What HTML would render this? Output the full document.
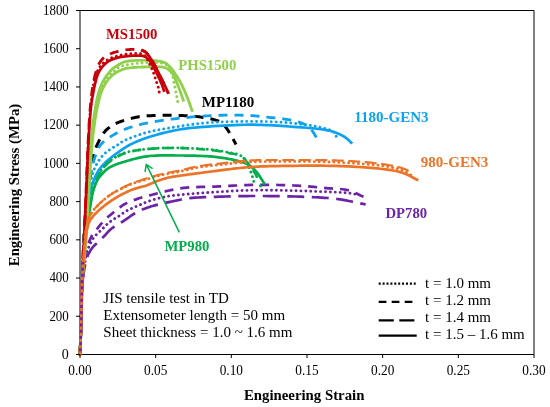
<!DOCTYPE html>
<html><head><meta charset="utf-8"><style>
html,body{margin:0;padding:0;background:#fff;width:550px;height:407px;overflow:hidden}
svg{display:block;filter:blur(0.3px)}
</style></head><body>
<svg width="550" height="407" viewBox="0 0 550 407" font-family='"Liberation Serif", serif'>
<path d="M80.0,10.5H534.0V354.5H80.0Z" fill="none" stroke="#000" stroke-width="1"/>
<path d="M80.00,354.50 L80.12,351.05 L80.25,347.60 L80.37,344.16 L80.50,340.71 L80.63,337.27 L80.75,333.82 L80.87,330.37 L80.99,326.92 L81.10,323.46 L81.20,320.00 L81.29,316.43 L81.36,312.74 L81.42,308.98 L81.47,305.20 L81.52,301.45 L81.58,297.79 L81.65,294.26 L81.74,290.91 L81.86,287.81 L82.00,285.00 L82.10,283.43 L82.22,281.97 L82.34,280.58 L82.47,279.26 L82.61,278.00 L82.75,276.77 L82.89,275.57 L83.03,274.39 L83.16,273.20 L83.30,272.00 L83.42,270.95 L83.53,269.93 L83.64,268.93 L83.75,267.95 L83.86,266.97 L83.97,266.00 L84.09,265.02 L84.22,264.03 L84.36,263.03 L84.50,262.00 L84.66,260.84 L84.83,259.64 L85.00,258.43 L85.18,257.20 L85.36,255.97 L85.56,254.74 L85.77,253.52 L85.99,252.31 L86.24,251.14 L86.50,250.00 L86.76,248.99 L87.02,247.99 L87.30,247.01 L87.59,246.04 L87.90,245.08 L88.22,244.14 L88.54,243.21 L88.88,242.29 L89.24,241.39 L89.60,240.50 L89.95,239.69 L90.31,238.88 L90.69,238.07 L91.07,237.27 L91.47,236.49 L91.87,235.73 L92.27,234.99 L92.68,234.29 L93.09,233.62 L93.50,233.00 L93.81,232.57 L94.11,232.17 L94.40,231.81 L94.70,231.47 L95.01,231.14 L95.32,230.81 L95.64,230.47 L95.97,230.12 L96.33,229.73 L96.70,229.30 L97.32,228.56 L97.99,227.74 L98.71,226.85 L99.46,225.92 L100.23,224.96 L101.02,224.00 L101.81,223.06 L102.59,222.14 L103.36,221.29 L104.10,220.50 L104.69,219.90 L105.28,219.34 L105.86,218.81 L106.44,218.29 L107.01,217.79 L107.59,217.30 L108.18,216.81 L108.77,216.32 L109.38,215.82 L110.00,215.30 L110.70,214.72 L111.42,214.12 L112.16,213.52 L112.91,212.92 L113.66,212.32 L114.42,211.72 L115.17,211.13 L115.93,210.54 L116.67,209.96 L117.40,209.40 L118.06,208.88 L118.70,208.37 L119.32,207.86 L119.94,207.36 L120.56,206.87 L121.19,206.38 L121.84,205.90 L122.52,205.42 L123.24,204.96 L124.00,204.50 L125.01,203.94 L126.07,203.39 L127.17,202.86 L128.31,202.34 L129.49,201.82 L130.71,201.32 L131.95,200.83 L133.21,200.35 L134.50,199.87 L135.80,199.40 L137.38,198.86 L139.03,198.33 L140.74,197.81 L142.49,197.31 L144.26,196.82 L146.04,196.34 L147.82,195.86 L149.59,195.40 L151.32,194.95 L153.00,194.50 L154.51,194.09 L156.00,193.70 L157.47,193.30 L158.92,192.92 L160.37,192.55 L161.82,192.18 L163.27,191.82 L164.73,191.47 L166.20,191.13 L167.70,190.80 L169.25,190.46 L170.76,190.13 L172.27,189.81 L173.77,189.50 L175.29,189.19 L176.86,188.90 L178.47,188.63 L180.15,188.37 L181.93,188.12 L183.80,187.90 L186.78,187.62 L189.99,187.39 L193.40,187.21 L196.96,187.06 L200.63,186.94 L204.37,186.84 L208.14,186.75 L211.90,186.65 L215.60,186.54 L219.20,186.40 L222.72,186.24 L226.23,186.07 L229.73,185.89 L233.23,185.70 L236.74,185.52 L240.25,185.35 L243.77,185.20 L247.32,185.07 L250.89,184.97 L254.50,184.90 L258.35,184.86 L262.27,184.84 L266.22,184.84 L270.20,184.87 L274.20,184.91 L278.18,184.98 L282.14,185.08 L286.06,185.19 L289.92,185.34 L293.70,185.50 L297.12,185.68 L300.54,185.89 L303.94,186.13 L307.31,186.39 L310.65,186.67 L313.94,186.96 L317.17,187.25 L320.33,187.54 L323.41,187.83 L326.40,188.10 L328.79,188.29 L331.14,188.45 L333.44,188.58 L335.70,188.70 L337.92,188.84 L340.09,189.01 L342.21,189.22 L344.29,189.50 L346.32,189.85 L348.30,190.30 L349.96,190.78 L351.56,191.33 L353.12,191.94 L354.63,192.59 L356.12,193.28 L357.59,194.00 L359.05,194.72 L360.52,195.43 L362.00,196.13 L363.50,196.80" fill="none" stroke="#6C24A6" stroke-width="2.7" stroke-dasharray="9,7" stroke-linejoin="round"/>
<path d="M80.00,354.50 L80.12,351.05 L80.25,347.60 L80.37,344.16 L80.50,340.71 L80.63,337.27 L80.75,333.82 L80.87,330.37 L80.99,326.92 L81.10,323.46 L81.20,320.00 L81.29,316.42 L81.36,312.70 L81.41,308.90 L81.46,305.07 L81.50,301.28 L81.56,297.59 L81.63,294.06 L81.72,290.74 L81.84,287.70 L82.00,285.00 L82.10,283.64 L82.22,282.38 L82.34,281.21 L82.47,280.10 L82.60,279.04 L82.74,278.02 L82.88,277.02 L83.02,276.03 L83.16,275.03 L83.30,274.00 L83.42,273.06 L83.55,272.14 L83.68,271.23 L83.81,270.33 L83.94,269.44 L84.07,268.56 L84.20,267.67 L84.33,266.78 L84.47,265.90 L84.60,265.00 L84.73,264.09 L84.86,263.18 L84.99,262.26 L85.11,261.33 L85.24,260.41 L85.38,259.50 L85.52,258.60 L85.67,257.71 L85.83,256.84 L86.00,256.00 L86.16,255.28 L86.31,254.60 L86.46,253.93 L86.62,253.28 L86.78,252.63 L86.96,251.98 L87.16,251.32 L87.38,250.64 L87.62,249.94 L87.90,249.20 L88.32,248.12 L88.79,246.96 L89.31,245.75 L89.86,244.51 L90.45,243.24 L91.07,241.99 L91.72,240.75 L92.39,239.56 L93.09,238.44 L93.80,237.40 L94.46,236.55 L95.16,235.74 L95.90,234.97 L96.65,234.23 L97.43,233.52 L98.20,232.82 L98.98,232.14 L99.74,231.46 L100.49,230.79 L101.20,230.10 L101.82,229.48 L102.42,228.86 L103.01,228.25 L103.59,227.64 L104.17,227.04 L104.75,226.45 L105.32,225.87 L105.91,225.30 L106.50,224.74 L107.10,224.20 L107.68,223.70 L108.26,223.22 L108.84,222.75 L109.43,222.29 L110.02,221.84 L110.61,221.39 L111.20,220.96 L111.80,220.53 L112.40,220.11 L113.00,219.70 L113.58,219.31 L114.16,218.95 L114.74,218.59 L115.32,218.25 L115.90,217.90 L116.49,217.56 L117.08,217.22 L117.68,216.86 L118.28,216.49 L118.90,216.10 L119.61,215.63 L120.31,215.14 L121.02,214.63 L121.74,214.11 L122.46,213.58 L123.20,213.05 L123.96,212.53 L124.75,212.01 L125.56,211.49 L126.40,211.00 L127.47,210.42 L128.59,209.85 L129.76,209.28 L130.96,208.72 L132.19,208.17 L133.43,207.62 L134.69,207.09 L135.94,206.55 L137.18,206.02 L138.40,205.50 L139.59,204.98 L140.77,204.47 L141.94,203.95 L143.11,203.45 L144.29,202.94 L145.48,202.45 L146.68,201.97 L147.92,201.50 L149.19,201.04 L150.50,200.60 L152.10,200.10 L153.77,199.60 L155.50,199.11 L157.27,198.64 L159.06,198.18 L160.85,197.75 L162.63,197.34 L164.38,196.96 L166.07,196.61 L167.70,196.30 L168.98,196.07 L170.19,195.88 L171.35,195.71 L172.48,195.56 L173.61,195.43 L174.76,195.31 L175.95,195.19 L177.20,195.07 L178.54,194.94 L180.00,194.80 L182.56,194.55 L185.33,194.30 L188.30,194.04 L191.42,193.78 L194.68,193.52 L198.03,193.26 L201.45,193.01 L204.90,192.76 L208.36,192.52 L211.80,192.30 L215.78,192.04 L219.81,191.78 L223.91,191.52 L228.06,191.26 L232.28,191.02 L236.57,190.80 L240.93,190.60 L245.37,190.43 L249.89,190.29 L254.50,190.20 L260.23,190.15 L266.25,190.15 L272.48,190.21 L278.84,190.30 L285.27,190.43 L291.67,190.60 L297.97,190.78 L304.09,190.98 L309.96,191.19 L315.50,191.40 L319.72,191.56 L324.00,191.71 L328.27,191.86 L332.47,192.02 L336.53,192.20 L340.40,192.40 L344.00,192.63 L347.28,192.90 L350.17,193.22 L352.60,193.60 L353.49,193.78 L354.28,193.98 L355.00,194.18 L355.65,194.39 L356.25,194.61 L356.83,194.83 L357.40,195.05 L357.97,195.27 L358.57,195.49 L359.20,195.70" fill="none" stroke="#6C24A6" stroke-width="2.9" stroke-dasharray="0.01,4.9" stroke-linecap="round" stroke-linejoin="round"/>
<path d="M80.00,354.50 L80.12,351.05 L80.25,347.60 L80.37,344.16 L80.50,340.71 L80.63,337.27 L80.75,333.82 L80.87,330.37 L80.99,326.92 L81.10,323.46 L81.20,320.00 L81.29,316.41 L81.35,312.65 L81.40,308.80 L81.44,304.92 L81.48,301.08 L81.53,297.36 L81.60,293.82 L81.70,290.53 L81.83,287.57 L82.00,285.00 L82.11,283.86 L82.22,282.81 L82.35,281.84 L82.48,280.94 L82.61,280.09 L82.75,279.28 L82.89,278.47 L83.03,277.67 L83.17,276.85 L83.30,276.00 L83.42,275.18 L83.54,274.36 L83.65,273.55 L83.76,272.74 L83.88,271.93 L83.99,271.14 L84.11,270.34 L84.23,269.56 L84.36,268.77 L84.50,268.00 L84.63,267.28 L84.77,266.56 L84.90,265.84 L85.04,265.13 L85.19,264.43 L85.34,263.73 L85.49,263.04 L85.65,262.35 L85.82,261.67 L86.00,261.00 L86.17,260.38 L86.34,259.77 L86.51,259.17 L86.68,258.57 L86.86,257.98 L87.06,257.39 L87.26,256.80 L87.49,256.21 L87.73,255.61 L88.00,255.00 L88.34,254.29 L88.70,253.56 L89.08,252.82 L89.49,252.08 L89.92,251.34 L90.36,250.60 L90.82,249.88 L91.30,249.16 L91.79,248.47 L92.30,247.80 L92.82,247.16 L93.38,246.54 L93.95,245.93 L94.54,245.34 L95.15,244.76 L95.76,244.19 L96.38,243.62 L96.99,243.05 L97.60,242.48 L98.20,241.90 L98.79,241.33 L99.37,240.76 L99.96,240.20 L100.54,239.65 L101.13,239.09 L101.71,238.53 L102.30,237.96 L102.90,237.39 L103.50,236.80 L104.10,236.20 L104.76,235.51 L105.41,234.81 L106.06,234.08 L106.71,233.34 L107.37,232.60 L108.04,231.85 L108.73,231.12 L109.45,230.39 L110.21,229.68 L111.00,229.00 L111.96,228.25 L112.96,227.54 L114.01,226.84 L115.09,226.17 L116.20,225.50 L117.33,224.83 L118.48,224.15 L119.65,223.46 L120.82,222.74 L122.00,222.00 L123.39,221.08 L124.83,220.10 L126.30,219.08 L127.79,218.04 L129.30,216.99 L130.81,215.96 L132.31,214.95 L133.80,214.00 L135.27,213.11 L136.70,212.30 L137.87,211.68 L139.03,211.10 L140.18,210.56 L141.32,210.05 L142.45,209.56 L143.58,209.10 L144.70,208.65 L145.83,208.22 L146.96,207.81 L148.10,207.40 L149.20,207.02 L150.30,206.67 L151.39,206.33 L152.49,206.01 L153.59,205.71 L154.70,205.42 L155.80,205.13 L156.90,204.85 L158.00,204.58 L159.10,204.30 L160.17,204.03 L161.23,203.78 L162.27,203.54 L163.30,203.31 L164.35,203.08 L165.40,202.85 L166.49,202.62 L167.61,202.39 L168.78,202.15 L170.00,201.90 L171.72,201.54 L173.50,201.16 L175.35,200.76 L177.26,200.35 L179.23,199.95 L181.24,199.55 L183.30,199.16 L185.40,198.81 L187.54,198.48 L189.70,198.20 L192.39,197.91 L195.17,197.68 L198.02,197.48 L200.93,197.32 L203.90,197.19 L206.91,197.08 L209.96,196.99 L213.03,196.89 L216.11,196.80 L219.20,196.70 L222.57,196.58 L225.96,196.48 L229.36,196.38 L232.79,196.29 L236.27,196.21 L239.78,196.14 L243.36,196.09 L246.99,196.04 L250.71,196.01 L254.50,196.00 L259.20,196.00 L264.13,196.01 L269.22,196.04 L274.42,196.09 L279.67,196.16 L284.91,196.24 L290.08,196.35 L295.12,196.48 L299.98,196.63 L304.60,196.80 L308.16,196.95 L311.63,197.09 L315.00,197.24 L318.31,197.40 L321.55,197.58 L324.74,197.78 L327.90,198.02 L331.03,198.30 L334.16,198.62 L337.30,199.00 L340.23,199.42 L343.12,199.89 L345.99,200.41 L348.82,200.96 L351.64,201.54 L354.45,202.14 L357.25,202.75 L360.06,203.35 L362.87,203.94 L365.70,204.50" fill="none" stroke="#6C24A6" stroke-width="2.7" stroke-dasharray="17,7.5" stroke-linejoin="round"/>
<path d="M80.00,354.50 L80.12,351.05 L80.25,347.60 L80.37,344.16 L80.50,340.71 L80.63,337.27 L80.75,333.82 L80.87,330.37 L80.99,326.92 L81.10,323.46 L81.20,320.00 L81.29,316.54 L81.37,313.12 L81.45,309.71 L81.51,306.32 L81.58,302.90 L81.64,299.46 L81.71,295.96 L81.80,292.40 L81.89,288.75 L82.00,285.00 L82.15,280.32 L82.30,275.43 L82.46,270.37 L82.64,265.21 L82.82,260.00 L83.02,254.78 L83.24,249.62 L83.47,244.57 L83.73,239.68 L84.00,235.00 L84.25,231.21 L84.51,227.47 L84.78,223.78 L85.07,220.16 L85.37,216.60 L85.68,213.11 L86.00,209.70 L86.33,206.38 L86.66,203.14 L87.00,200.00 L87.28,197.58 L87.57,195.23 L87.87,192.94 L88.18,190.71 L88.49,188.52 L88.80,186.37 L89.11,184.25 L89.41,182.16 L89.71,180.07 L90.00,178.00 L90.25,176.15 L90.48,174.30 L90.71,172.46 L90.93,170.64 L91.15,168.84 L91.38,167.07 L91.61,165.35 L91.86,163.67 L92.12,162.06 L92.40,160.50 L92.63,159.33 L92.86,158.19 L93.09,157.08 L93.33,156.01 L93.58,154.95 L93.84,153.93 L94.11,152.92 L94.39,151.93 L94.69,150.96 L95.00,150.00 L95.29,149.18 L95.59,148.39 L95.90,147.61 L96.22,146.85 L96.54,146.11 L96.88,145.37 L97.23,144.63 L97.58,143.90 L97.94,143.15 L98.30,142.40 L98.68,141.60 L99.07,140.79 L99.47,139.97 L99.87,139.14 L100.28,138.32 L100.70,137.51 L101.13,136.72 L101.57,135.95 L102.03,135.21 L102.50,134.50 L102.93,133.90 L103.36,133.32 L103.81,132.76 L104.26,132.21 L104.73,131.68 L105.20,131.16 L105.68,130.66 L106.18,130.16 L106.68,129.68 L107.20,129.20 L107.73,128.73 L108.26,128.27 L108.81,127.83 L109.36,127.40 L109.93,126.98 L110.51,126.57 L111.10,126.17 L111.71,125.77 L112.35,125.38 L113.00,125.00 L113.78,124.56 L114.58,124.14 L115.39,123.74 L116.23,123.34 L117.09,122.95 L117.99,122.57 L118.91,122.20 L119.87,121.83 L120.86,121.46 L121.90,121.10 L123.41,120.59 L125.04,120.08 L126.76,119.57 L128.54,119.06 L130.38,118.57 L132.25,118.11 L134.12,117.67 L135.99,117.26 L137.82,116.91 L139.60,116.60 L141.25,116.36 L142.87,116.17 L144.49,116.01 L146.10,115.89 L147.71,115.80 L149.32,115.72 L150.95,115.66 L152.61,115.61 L154.29,115.56 L156.00,115.50 L157.97,115.44 L159.98,115.38 L162.03,115.35 L164.11,115.32 L166.21,115.30 L168.31,115.30 L170.41,115.31 L172.50,115.33 L174.57,115.36 L176.60,115.40 L178.56,115.45 L180.55,115.51 L182.55,115.59 L184.56,115.67 L186.54,115.77 L188.49,115.87 L190.38,115.99 L192.19,116.12 L193.90,116.25 L195.50,116.40 L196.53,116.51 L197.50,116.62 L198.42,116.74 L199.31,116.86 L200.17,116.99 L201.01,117.13 L201.84,117.26 L202.68,117.41 L203.53,117.55 L204.40,117.70 L205.29,117.85 L206.18,117.99 L207.07,118.14 L207.96,118.29 L208.85,118.44 L209.74,118.60 L210.62,118.78 L211.49,118.97 L212.35,119.17 L213.20,119.40 L214.02,119.63 L214.84,119.85 L215.66,120.08 L216.48,120.32 L217.28,120.58 L218.07,120.86 L218.84,121.16 L219.59,121.50 L220.31,121.88 L221.00,122.30 L221.64,122.76 L222.25,123.26 L222.83,123.79 L223.39,124.36 L223.92,124.95 L224.45,125.57 L224.96,126.20 L225.47,126.86 L225.99,127.52 L226.50,128.20 L227.09,129.00 L227.67,129.84 L228.24,130.72 L228.81,131.63 L229.37,132.55 L229.92,133.48 L230.46,134.41 L230.98,135.33 L231.50,136.23 L232.00,137.10 L232.44,137.86 L232.86,138.62 L233.26,139.36 L233.66,140.10 L234.06,140.83 L234.44,141.57 L234.83,142.30 L235.21,143.03 L235.60,143.76 L236.00,144.50" fill="none" stroke="#000000" stroke-width="3.0" stroke-dasharray="9,7" stroke-linejoin="round"/>
<path d="M80.00,354.50 L80.12,351.05 L80.25,347.60 L80.37,344.16 L80.50,340.71 L80.63,337.27 L80.75,333.82 L80.87,330.37 L80.99,326.92 L81.10,323.46 L81.20,320.00 L81.29,316.53 L81.37,313.10 L81.44,309.68 L81.51,306.27 L81.57,302.84 L81.64,299.38 L81.71,295.89 L81.79,292.33 L81.89,288.71 L82.00,285.00 L82.15,280.52 L82.31,275.82 L82.49,270.97 L82.68,266.03 L82.88,261.07 L83.09,256.13 L83.31,251.30 L83.53,246.62 L83.76,242.17 L84.00,238.00 L84.18,235.08 L84.36,232.29 L84.55,229.60 L84.74,227.00 L84.93,224.45 L85.14,221.95 L85.34,219.48 L85.55,217.01 L85.77,214.52 L86.00,212.00 L86.22,209.55 L86.44,207.10 L86.67,204.65 L86.89,202.22 L87.13,199.79 L87.37,197.39 L87.63,195.00 L87.90,192.64 L88.19,190.30 L88.50,188.00 L88.80,185.90 L89.11,183.80 L89.43,181.71 L89.77,179.63 L90.12,177.58 L90.47,175.56 L90.84,173.58 L91.22,171.66 L91.61,169.79 L92.00,168.00 L92.32,166.62 L92.64,165.27 L92.96,163.96 L93.29,162.68 L93.63,161.43 L93.97,160.21 L94.33,159.00 L94.70,157.82 L95.09,156.65 L95.50,155.50 L95.88,154.47 L96.26,153.44 L96.65,152.43 L97.05,151.43 L97.46,150.44 L97.89,149.49 L98.33,148.56 L98.80,147.66 L99.29,146.81 L99.80,146.00 L100.25,145.35 L100.72,144.74 L101.20,144.15 L101.69,143.59 L102.20,143.06 L102.72,142.54 L103.26,142.02 L103.82,141.52 L104.40,141.01 L105.00,140.50 L105.71,139.92 L106.47,139.34 L107.25,138.78 L108.06,138.22 L108.89,137.67 L109.74,137.14 L110.58,136.61 L111.43,136.09 L112.27,135.59 L113.10,135.10 L113.88,134.64 L114.66,134.20 L115.45,133.77 L116.23,133.35 L117.02,132.93 L117.81,132.53 L118.60,132.14 L119.39,131.75 L120.19,131.37 L121.00,131.00 L121.80,130.64 L122.59,130.29 L123.37,129.95 L124.15,129.62 L124.94,129.29 L125.75,128.98 L126.58,128.66 L127.44,128.34 L128.35,128.02 L129.30,127.70 L130.67,127.25 L132.09,126.80 L133.57,126.35 L135.10,125.89 L136.69,125.44 L138.33,125.00 L140.03,124.56 L141.80,124.13 L143.62,123.71 L145.50,123.30 L148.28,122.74 L151.24,122.19 L154.35,121.66 L157.58,121.13 L160.92,120.63 L164.31,120.14 L167.75,119.67 L171.20,119.22 L174.62,118.80 L178.00,118.40 L181.54,118.00 L185.11,117.63 L188.72,117.27 L192.35,116.93 L195.99,116.62 L199.65,116.34 L203.30,116.08 L206.95,115.86 L210.59,115.66 L214.20,115.50 L217.80,115.37 L221.48,115.27 L225.20,115.20 L228.93,115.16 L232.64,115.15 L236.28,115.16 L239.82,115.20 L243.23,115.27 L246.47,115.37 L249.50,115.50 L251.51,115.61 L253.41,115.75 L255.23,115.90 L256.98,116.07 L258.68,116.25 L260.35,116.44 L262.01,116.63 L263.68,116.83 L265.37,117.02 L267.10,117.20 L268.87,117.37 L270.65,117.54 L272.44,117.69 L274.22,117.85 L276.01,118.02 L277.79,118.19 L279.56,118.38 L281.32,118.59 L283.07,118.83 L284.80,119.10 L286.48,119.38 L288.19,119.67 L289.90,119.97 L291.61,120.29 L293.30,120.63 L294.96,121.00 L296.58,121.39 L298.13,121.82 L299.61,122.29 L301.00,122.80 L302.03,123.22 L303.02,123.65 L303.96,124.09 L304.87,124.55 L305.75,125.04 L306.61,125.55 L307.43,126.10 L308.24,126.68 L309.03,127.32 L309.80,128.00 L310.62,128.82 L311.39,129.73 L312.13,130.69 L312.83,131.71 L313.52,132.76 L314.19,133.84 L314.85,134.93 L315.52,136.01 L316.20,137.07 L316.90,138.10" fill="none" stroke="#0CA2EE" stroke-width="2.8" stroke-dasharray="9,7" stroke-linejoin="round"/>
<path d="M80.00,354.50 L80.12,351.05 L80.25,347.60 L80.37,344.16 L80.50,340.71 L80.63,337.27 L80.75,333.82 L80.87,330.37 L80.99,326.92 L81.10,323.46 L81.20,320.00 L81.29,316.52 L81.37,313.06 L81.44,309.61 L81.50,306.15 L81.56,302.69 L81.63,299.21 L81.70,295.71 L81.78,292.18 L81.88,288.61 L82.00,285.00 L82.15,281.01 L82.31,276.92 L82.49,272.78 L82.67,268.59 L82.87,264.38 L83.08,260.19 L83.30,256.03 L83.52,251.92 L83.76,247.91 L84.00,244.00 L84.22,240.60 L84.44,237.22 L84.68,233.87 L84.92,230.55 L85.16,227.28 L85.41,224.07 L85.67,220.92 L85.94,217.85 L86.22,214.88 L86.50,212.00 L86.73,209.80 L86.96,207.66 L87.19,205.58 L87.42,203.55 L87.67,201.56 L87.91,199.61 L88.17,197.68 L88.44,195.78 L88.71,193.88 L89.00,192.00 L89.26,190.30 L89.53,188.61 L89.80,186.92 L90.08,185.25 L90.36,183.61 L90.66,181.99 L90.97,180.42 L91.29,178.89 L91.64,177.41 L92.00,176.00 L92.29,174.94 L92.58,173.93 L92.87,172.95 L93.16,172.01 L93.47,171.09 L93.80,170.18 L94.15,169.27 L94.53,168.36 L94.94,167.44 L95.40,166.50 L95.98,165.39 L96.60,164.24 L97.28,163.08 L97.99,161.91 L98.73,160.74 L99.50,159.60 L100.29,158.49 L101.09,157.43 L101.90,156.43 L102.70,155.50 L103.39,154.77 L104.09,154.08 L104.80,153.43 L105.52,152.82 L106.25,152.23 L106.99,151.66 L107.74,151.11 L108.49,150.57 L109.24,150.03 L110.00,149.50 L110.74,149.00 L111.50,148.51 L112.28,148.04 L113.06,147.59 L113.84,147.14 L114.62,146.71 L115.38,146.28 L116.12,145.85 L116.83,145.43 L117.50,145.00 L118.00,144.66 L118.47,144.32 L118.90,143.99 L119.33,143.65 L119.74,143.32 L120.16,143.00 L120.60,142.67 L121.06,142.35 L121.56,142.02 L122.10,141.70 L122.93,141.25 L123.81,140.80 L124.75,140.35 L125.73,139.91 L126.75,139.47 L127.80,139.03 L128.88,138.59 L129.97,138.16 L131.08,137.73 L132.20,137.30 L133.53,136.79 L134.87,136.29 L136.24,135.78 L137.63,135.28 L139.05,134.79 L140.52,134.30 L142.04,133.81 L143.62,133.33 L145.27,132.86 L147.00,132.40 L149.63,131.75 L152.47,131.11 L155.47,130.47 L158.61,129.85 L161.83,129.24 L165.11,128.65 L168.41,128.08 L171.68,127.53 L174.89,127.00 L178.00,126.50 L180.89,126.04 L183.73,125.60 L186.53,125.18 L189.31,124.77 L192.10,124.39 L194.91,124.02 L197.76,123.68 L200.68,123.36 L203.69,123.07 L206.80,122.80 L210.73,122.51 L214.82,122.26 L219.03,122.04 L223.34,121.86 L227.72,121.71 L232.12,121.59 L236.54,121.50 L240.92,121.44 L245.25,121.41 L249.50,121.40 L253.55,121.41 L257.60,121.44 L261.64,121.49 L265.67,121.56 L269.69,121.67 L273.67,121.80 L277.62,121.98 L281.53,122.21 L285.40,122.48 L289.20,122.80 L292.70,123.14 L296.26,123.53 L299.85,123.95 L303.41,124.42 L306.92,124.91 L310.32,125.44 L313.58,125.99 L316.66,126.57 L319.51,127.18 L322.10,127.80 L323.58,128.18 L325.02,128.55 L326.40,128.91 L327.72,129.28 L328.97,129.66 L330.14,130.08 L331.23,130.53 L332.22,131.02 L333.12,131.58 L333.90,132.20 L334.38,132.70 L334.78,133.23 L335.12,133.80 L335.40,134.40 L335.64,135.01 L335.87,135.63 L336.08,136.26 L336.30,136.88 L336.53,137.50 L336.80,138.10" fill="none" stroke="#0CA2EE" stroke-width="2.9" stroke-dasharray="0.01,4.9" stroke-linecap="round" stroke-linejoin="round"/>
<path d="M80.00,354.50 L80.12,351.05 L80.25,347.60 L80.37,344.16 L80.50,340.71 L80.63,337.27 L80.75,333.82 L80.87,330.37 L80.99,326.92 L81.10,323.46 L81.20,320.00 L81.29,316.52 L81.37,313.06 L81.44,309.61 L81.50,306.15 L81.56,302.69 L81.63,299.21 L81.70,295.71 L81.78,292.18 L81.88,288.61 L82.00,285.00 L82.15,281.00 L82.31,276.89 L82.48,272.71 L82.66,268.49 L82.86,264.26 L83.07,260.04 L83.29,255.88 L83.51,251.80 L83.75,247.83 L84.00,244.00 L84.22,240.85 L84.45,237.72 L84.69,234.63 L84.93,231.58 L85.18,228.59 L85.44,225.67 L85.70,222.84 L85.97,220.11 L86.23,217.49 L86.50,215.00 L86.69,213.29 L86.88,211.65 L87.06,210.08 L87.25,208.56 L87.44,207.08 L87.63,205.64 L87.83,204.22 L88.04,202.81 L88.27,201.41 L88.50,200.00 L88.72,198.74 L88.93,197.48 L89.16,196.24 L89.38,195.02 L89.62,193.81 L89.87,192.62 L90.13,191.44 L90.40,190.27 L90.69,189.13 L91.00,188.00 L91.30,186.99 L91.61,185.99 L91.94,185.01 L92.28,184.04 L92.63,183.08 L92.99,182.14 L93.36,181.21 L93.74,180.29 L94.12,179.39 L94.50,178.50 L94.85,177.70 L95.20,176.91 L95.56,176.13 L95.92,175.36 L96.29,174.60 L96.67,173.86 L97.06,173.13 L97.46,172.40 L97.87,171.70 L98.30,171.00 L98.72,170.35 L99.16,169.72 L99.60,169.10 L100.06,168.49 L100.52,167.89 L101.00,167.30 L101.49,166.72 L101.98,166.14 L102.49,165.57 L103.00,165.00 L103.52,164.43 L104.03,163.89 L104.53,163.36 L105.05,162.84 L105.57,162.33 L106.13,161.81 L106.72,161.27 L107.35,160.71 L108.05,160.12 L108.80,159.50 L110.32,158.27 L112.06,156.90 L113.97,155.42 L116.02,153.87 L118.19,152.28 L120.43,150.69 L122.72,149.13 L125.01,147.64 L127.29,146.25 L129.50,145.00 L131.61,143.91 L133.72,142.89 L135.86,141.93 L138.01,141.03 L140.18,140.17 L142.38,139.35 L144.60,138.57 L146.86,137.80 L149.16,137.05 L151.50,136.30 L154.16,135.48 L156.92,134.68 L159.75,133.91 L162.63,133.16 L165.53,132.44 L168.43,131.76 L171.30,131.12 L174.12,130.53 L176.86,129.99 L179.50,129.50 L181.58,129.14 L183.55,128.83 L185.44,128.57 L187.29,128.33 L189.13,128.12 L190.99,127.93 L192.93,127.75 L194.97,127.58 L197.15,127.39 L199.50,127.20 L203.61,126.87 L208.15,126.54 L213.02,126.20 L218.15,125.87 L223.45,125.56 L228.83,125.29 L234.21,125.06 L239.51,124.87 L244.63,124.75 L249.50,124.70 L253.65,124.72 L257.73,124.78 L261.74,124.88 L265.70,125.03 L269.62,125.21 L273.52,125.42 L277.42,125.66 L281.32,125.92 L285.24,126.20 L289.20,126.50 L293.31,126.80 L297.58,127.10 L301.93,127.41 L306.30,127.74 L310.63,128.10 L314.86,128.51 L318.92,128.97 L322.76,129.50 L326.31,130.10 L329.50,130.80 L331.32,131.28 L333.04,131.78 L334.67,132.30 L336.22,132.85 L337.69,133.42 L339.09,134.02 L340.43,134.65 L341.73,135.30 L342.98,135.99 L344.20,136.70 L345.15,137.31 L346.05,137.96 L346.89,138.63 L347.70,139.33 L348.47,140.03 L349.23,140.75 L349.98,141.47 L350.74,142.19 L351.51,142.90 L352.30,143.60" fill="none" stroke="#0CA2EE" stroke-width="2.7" stroke-linejoin="round"/>
<path d="M80.00,354.50 L80.12,351.05 L80.25,347.60 L80.37,344.16 L80.50,340.71 L80.63,337.27 L80.75,333.82 L80.87,330.37 L80.99,326.92 L81.10,323.46 L81.20,320.00 L81.29,316.51 L81.37,313.03 L81.43,309.55 L81.50,306.06 L81.56,302.58 L81.62,299.08 L81.69,295.58 L81.77,292.06 L81.88,288.54 L82.00,285.00 L82.14,281.29 L82.30,277.48 L82.46,273.62 L82.64,269.73 L82.83,265.85 L83.03,262.03 L83.24,258.30 L83.48,254.69 L83.73,251.24 L84.00,248.00 L84.21,245.75 L84.44,243.60 L84.69,241.55 L84.94,239.55 L85.20,237.61 L85.46,235.70 L85.72,233.81 L85.99,231.90 L86.25,229.97 L86.50,228.00 L86.75,225.99 L86.98,223.95 L87.22,221.91 L87.45,219.86 L87.69,217.81 L87.93,215.79 L88.18,213.78 L88.44,211.81 L88.71,209.88 L89.00,208.00 L89.26,206.40 L89.53,204.83 L89.80,203.27 L90.07,201.75 L90.36,200.24 L90.66,198.76 L90.97,197.29 L91.29,195.84 L91.64,194.41 L92.00,193.00 L92.34,191.73 L92.70,190.47 L93.06,189.23 L93.44,188.00 L93.83,186.79 L94.23,185.60 L94.65,184.42 L95.09,183.26 L95.53,182.12 L96.00,181.00 L96.44,179.98 L96.89,178.99 L97.35,178.01 L97.82,177.04 L98.30,176.09 L98.80,175.15 L99.32,174.22 L99.86,173.31 L100.42,172.40 L101.00,171.50 L101.61,170.59 L102.25,169.68 L102.91,168.78 L103.58,167.89 L104.28,167.01 L104.99,166.15 L105.72,165.31 L106.47,164.51 L107.23,163.73 L108.00,163.00 L108.74,162.35 L109.51,161.72 L110.29,161.13 L111.08,160.56 L111.89,160.01 L112.71,159.49 L113.53,158.97 L114.36,158.47 L115.18,157.98 L116.00,157.50 L116.79,157.04 L117.57,156.59 L118.36,156.15 L119.16,155.73 L119.95,155.31 L120.75,154.91 L121.56,154.53 L122.37,154.17 L123.18,153.82 L124.00,153.50 L124.79,153.21 L125.57,152.95 L126.35,152.70 L127.13,152.48 L127.92,152.27 L128.72,152.07 L129.54,151.87 L130.39,151.68 L131.28,151.49 L132.20,151.30 L133.47,151.04 L134.78,150.79 L136.13,150.54 L137.52,150.30 L138.95,150.08 L140.44,149.86 L141.99,149.65 L143.59,149.45 L145.26,149.27 L147.00,149.10 L149.73,148.87 L152.67,148.66 L155.78,148.47 L159.03,148.31 L162.38,148.18 L165.80,148.07 L169.26,148.00 L172.72,147.96 L176.14,147.96 L179.50,148.00 L183.03,148.09 L186.69,148.23 L190.44,148.42 L194.22,148.65 L197.97,148.91 L201.66,149.19 L205.21,149.50 L208.59,149.83 L211.74,150.16 L214.60,150.50 L216.26,150.72 L217.84,150.96 L219.33,151.20 L220.75,151.46 L222.12,151.72 L223.44,151.98 L224.73,152.24 L225.99,152.50 L227.25,152.76 L228.50,153.00 L229.54,153.19 L230.57,153.35 L231.58,153.51 L232.58,153.67 L233.56,153.82 L234.51,153.99 L235.43,154.17 L236.33,154.38 L237.18,154.62 L238.00,154.90 L238.62,155.14 L239.22,155.40 L239.80,155.66 L240.35,155.94 L240.89,156.24 L241.41,156.55 L241.92,156.88 L242.42,157.23 L242.91,157.60 L243.40,158.00 L243.92,158.47 L244.43,158.97 L244.92,159.51 L245.40,160.07 L245.86,160.65 L246.32,161.24 L246.77,161.84 L247.22,162.44 L247.66,163.03 L248.10,163.60 L248.51,164.14 L248.92,164.68 L249.32,165.22 L249.71,165.76 L250.10,166.31 L250.49,166.85 L250.87,167.39 L251.25,167.93 L251.62,168.47 L252.00,169.00 L252.36,169.50 L252.73,169.99 L253.10,170.48 L253.46,170.96 L253.82,171.45 L254.18,171.93 L254.53,172.43 L254.86,172.94 L255.19,173.46 L255.50,174.00 L255.81,174.60 L256.11,175.22 L256.39,175.86 L256.66,176.51 L256.92,177.17 L257.17,177.83 L257.42,178.50 L257.68,179.17 L257.93,179.84 L258.20,180.50 L258.48,181.17 L258.76,181.85 L259.04,182.53 L259.32,183.21 L259.60,183.89 L259.88,184.57 L260.16,185.26 L260.44,185.94 L260.72,186.62 L261.00,187.30" fill="none" stroke="#04AE4C" stroke-width="2.6" stroke-dasharray="9,7" stroke-linejoin="round"/>
<path d="M80.00,354.50 L80.12,351.05 L80.25,347.60 L80.37,344.16 L80.50,340.71 L80.63,337.27 L80.75,333.82 L80.87,330.37 L80.99,326.92 L81.10,323.46 L81.20,320.00 L81.29,316.51 L81.37,313.03 L81.43,309.55 L81.50,306.06 L81.56,302.58 L81.62,299.08 L81.69,295.58 L81.77,292.06 L81.88,288.54 L82.00,285.00 L82.14,281.29 L82.30,277.48 L82.46,273.62 L82.64,269.73 L82.83,265.85 L83.03,262.03 L83.24,258.30 L83.48,254.69 L83.73,251.24 L84.00,248.00 L84.21,245.75 L84.44,243.60 L84.69,241.55 L84.94,239.55 L85.20,237.61 L85.46,235.70 L85.72,233.81 L85.99,231.90 L86.25,229.97 L86.50,228.00 L86.75,225.99 L86.98,223.95 L87.22,221.91 L87.45,219.86 L87.69,217.81 L87.93,215.79 L88.18,213.78 L88.44,211.81 L88.71,209.88 L89.00,208.00 L89.26,206.40 L89.53,204.83 L89.80,203.27 L90.07,201.75 L90.36,200.24 L90.66,198.76 L90.97,197.29 L91.29,195.84 L91.64,194.41 L92.00,193.00 L92.34,191.73 L92.70,190.48 L93.07,189.24 L93.45,188.02 L93.84,186.81 L94.24,185.62 L94.66,184.45 L95.09,183.29 L95.54,182.14 L96.00,181.00 L96.44,179.94 L96.89,178.90 L97.35,177.86 L97.81,176.84 L98.30,175.83 L98.79,174.84 L99.31,173.85 L99.85,172.89 L100.41,171.94 L101.00,171.00 L101.61,170.08 L102.24,169.17 L102.90,168.26 L103.58,167.37 L104.28,166.49 L104.99,165.64 L105.72,164.80 L106.47,164.00 L107.23,163.23 L108.00,162.50 L108.74,161.85 L109.51,161.22 L110.29,160.63 L111.08,160.06 L111.89,159.51 L112.71,158.99 L113.53,158.47 L114.36,157.97 L115.18,157.48 L116.00,157.00 L116.78,156.54 L117.56,156.09 L118.34,155.65 L119.12,155.22 L119.90,154.80 L120.69,154.40 L121.50,154.02 L122.31,153.66 L123.15,153.32 L124.00,153.00 L124.92,152.69 L125.84,152.42 L126.77,152.17 L127.72,151.94 L128.68,151.74 L129.66,151.54 L130.67,151.36 L131.71,151.18 L132.78,150.99 L133.90,150.80 L135.43,150.54 L137.03,150.28 L138.67,150.03 L140.37,149.79 L142.12,149.56 L143.91,149.34 L145.75,149.13 L147.63,148.93 L149.55,148.76 L151.50,148.60 L154.02,148.43 L156.63,148.27 L159.32,148.14 L162.08,148.04 L164.89,147.95 L167.76,147.89 L170.66,147.86 L173.59,147.85 L176.54,147.86 L179.50,147.90 L182.92,147.98 L186.53,148.09 L190.25,148.23 L194.03,148.41 L197.81,148.62 L201.53,148.85 L205.13,149.11 L208.55,149.39 L211.73,149.68 L214.60,150.00 L216.26,150.21 L217.84,150.44 L219.33,150.69 L220.75,150.94 L222.12,151.20 L223.44,151.46 L224.73,151.73 L225.99,151.99 L227.25,152.25 L228.50,152.50 L229.54,152.69 L230.57,152.87 L231.58,153.04 L232.58,153.21 L233.55,153.38 L234.51,153.56 L235.43,153.76 L236.32,153.98 L237.18,154.22 L238.00,154.50 L238.63,154.74 L239.23,154.99 L239.82,155.26 L240.38,155.53 L240.93,155.82 L241.46,156.12 L241.97,156.44 L242.46,156.77 L242.94,157.13 L243.40,157.50 L243.83,157.88 L244.24,158.27 L244.64,158.69 L245.02,159.11 L245.38,159.55 L245.73,160.01 L246.07,160.49 L246.39,160.98 L246.70,161.48 L247.00,162.00 L247.32,162.62 L247.61,163.29 L247.88,164.00 L248.13,164.72 L248.36,165.46 L248.59,166.20 L248.81,166.94 L249.03,167.66 L249.26,168.35 L249.50,169.00 L249.71,169.52 L249.91,170.02 L250.12,170.50 L250.33,170.97 L250.53,171.44 L250.74,171.90 L250.94,172.36 L251.13,172.83 L251.32,173.31 L251.50,173.80 L251.68,174.33 L251.86,174.87 L252.03,175.41 L252.19,175.97 L252.35,176.52 L252.51,177.08 L252.66,177.63 L252.81,178.16 L252.96,178.69 L253.10,179.20 L253.22,179.62 L253.34,180.04 L253.45,180.44 L253.56,180.84 L253.67,181.24 L253.77,181.63 L253.88,182.02 L253.98,182.41 L254.09,182.80 L254.20,183.20" fill="none" stroke="#04AE4C" stroke-width="2.9" stroke-dasharray="0.01,4.9" stroke-linecap="round" stroke-linejoin="round"/>
<path d="M80.00,354.50 L80.12,351.05 L80.25,347.60 L80.37,344.16 L80.50,340.71 L80.63,337.27 L80.75,333.82 L80.87,330.37 L80.99,326.92 L81.10,323.46 L81.20,320.00 L81.29,316.51 L81.37,313.02 L81.43,309.52 L81.49,306.02 L81.55,302.51 L81.61,299.01 L81.68,295.51 L81.77,292.00 L81.87,288.50 L82.00,285.00 L82.14,281.47 L82.30,277.89 L82.46,274.29 L82.63,270.68 L82.81,267.08 L83.02,263.52 L83.23,260.01 L83.47,256.57 L83.72,253.23 L84.00,250.00 L84.25,247.40 L84.51,244.85 L84.80,242.35 L85.09,239.90 L85.39,237.49 L85.71,235.13 L86.03,232.80 L86.35,230.50 L86.67,228.24 L87.00,226.00 L87.28,224.09 L87.57,222.23 L87.86,220.40 L88.15,218.61 L88.45,216.83 L88.75,215.07 L89.05,213.31 L89.36,211.55 L89.68,209.79 L90.00,208.00 L90.32,206.18 L90.63,204.32 L90.94,202.45 L91.25,200.57 L91.57,198.70 L91.91,196.85 L92.26,195.05 L92.64,193.29 L93.05,191.61 L93.50,190.00 L93.88,188.75 L94.28,187.53 L94.69,186.33 L95.12,185.17 L95.56,184.03 L96.02,182.93 L96.49,181.88 L96.98,180.87 L97.48,179.91 L98.00,179.00 L98.41,178.34 L98.84,177.72 L99.27,177.13 L99.72,176.57 L100.17,176.04 L100.63,175.52 L101.09,175.01 L101.56,174.51 L102.03,174.01 L102.50,173.50 L102.95,173.02 L103.39,172.54 L103.83,172.07 L104.27,171.60 L104.72,171.15 L105.18,170.70 L105.65,170.26 L106.14,169.83 L106.66,169.41 L107.20,169.00 L107.85,168.55 L108.53,168.11 L109.24,167.68 L109.97,167.27 L110.72,166.87 L111.48,166.48 L112.27,166.09 L113.07,165.72 L113.88,165.36 L114.70,165.00 L115.63,164.61 L116.56,164.25 L117.49,163.90 L118.45,163.57 L119.43,163.24 L120.44,162.92 L121.48,162.60 L122.57,162.27 L123.71,161.94 L124.90,161.60 L126.74,161.07 L128.69,160.50 L130.75,159.91 L132.90,159.31 L135.12,158.71 L137.41,158.14 L139.76,157.59 L142.15,157.10 L144.56,156.66 L147.00,156.30 L150.00,155.97 L153.12,155.73 L156.35,155.57 L159.66,155.47 L163.01,155.42 L166.39,155.41 L169.75,155.43 L173.08,155.46 L176.33,155.49 L179.50,155.50 L182.40,155.51 L185.37,155.54 L188.37,155.59 L191.36,155.65 L194.30,155.72 L197.14,155.80 L199.86,155.89 L202.40,155.99 L204.73,156.09 L206.80,156.20 L207.80,156.26 L208.69,156.31 L209.50,156.36 L210.25,156.41 L210.98,156.47 L211.69,156.53 L212.43,156.60 L213.21,156.68 L214.06,156.78 L215.00,156.90 L216.69,157.12 L218.56,157.36 L220.57,157.64 L222.69,157.94 L224.87,158.27 L227.07,158.63 L229.26,159.01 L231.38,159.42 L233.41,159.85 L235.30,160.30 L236.80,160.68 L238.27,161.07 L239.72,161.46 L241.14,161.87 L242.53,162.29 L243.88,162.75 L245.18,163.24 L246.44,163.78 L247.65,164.36 L248.80,165.00 L249.76,165.61 L250.68,166.26 L251.56,166.96 L252.41,167.68 L253.22,168.43 L254.00,169.20 L254.76,169.99 L255.49,170.79 L256.20,171.60 L256.90,172.40 L257.54,173.18 L258.15,173.99 L258.74,174.84 L259.31,175.69 L259.85,176.55 L260.38,177.40 L260.89,178.24 L261.37,179.04 L261.85,179.80 L262.30,180.50 L262.61,180.97 L262.90,181.41 L263.18,181.83 L263.45,182.24 L263.71,182.64 L263.97,183.03 L264.22,183.41 L264.48,183.80 L264.73,184.20 L265.00,184.60" fill="none" stroke="#04AE4C" stroke-width="2.7" stroke-linejoin="round"/>
<path d="M80.00,354.50 L80.12,351.05 L80.25,347.60 L80.37,344.16 L80.50,340.71 L80.63,337.27 L80.75,333.82 L80.87,330.37 L80.99,326.92 L81.10,323.46 L81.20,320.00 L81.29,316.53 L81.36,313.09 L81.42,309.66 L81.47,306.23 L81.52,302.79 L81.58,299.33 L81.65,295.83 L81.74,292.28 L81.85,288.68 L82.00,285.00 L82.21,280.74 L82.46,276.40 L82.74,271.99 L83.05,267.52 L83.37,263.00 L83.70,258.44 L84.04,253.85 L84.37,249.24 L84.70,244.62 L85.00,240.00 L85.31,235.11 L85.61,230.17 L85.91,225.19 L86.20,220.19 L86.50,215.16 L86.79,210.13 L87.09,205.08 L87.39,200.04 L87.69,195.01 L88.00,190.00 L88.30,184.94 L88.60,179.79 L88.89,174.60 L89.17,169.38 L89.47,164.20 L89.77,159.08 L90.09,154.06 L90.43,149.18 L90.80,144.48 L91.20,140.00 L91.53,136.65 L91.87,133.38 L92.22,130.19 L92.58,127.07 L92.95,124.03 L93.34,121.07 L93.74,118.18 L94.14,115.38 L94.57,112.65 L95.00,110.00 L95.34,107.98 L95.69,106.01 L96.04,104.08 L96.40,102.19 L96.76,100.36 L97.14,98.57 L97.53,96.84 L97.93,95.17 L98.36,93.55 L98.80,92.00 L99.15,90.86 L99.50,89.76 L99.86,88.70 L100.23,87.68 L100.61,86.68 L101.00,85.71 L101.40,84.76 L101.81,83.83 L102.25,82.91 L102.70,82.00 L103.13,81.18 L103.57,80.38 L104.03,79.59 L104.50,78.82 L104.98,78.06 L105.47,77.32 L105.97,76.59 L106.48,75.88 L106.99,75.18 L107.50,74.50 L107.97,73.89 L108.45,73.29 L108.94,72.70 L109.44,72.13 L109.93,71.56 L110.44,71.02 L110.95,70.48 L111.46,69.97 L111.98,69.48 L112.50,69.00 L112.97,68.59 L113.44,68.21 L113.90,67.84 L114.38,67.48 L114.85,67.14 L115.34,66.81 L115.83,66.48 L116.34,66.16 L116.86,65.83 L117.40,65.50 L118.04,65.11 L118.68,64.72 L119.34,64.32 L120.01,63.92 L120.70,63.54 L121.41,63.16 L122.14,62.81 L122.90,62.48 L123.68,62.17 L124.50,61.90 L125.57,61.61 L126.71,61.36 L127.89,61.16 L129.12,60.99 L130.38,60.84 L131.66,60.73 L132.95,60.63 L134.25,60.55 L135.53,60.47 L136.80,60.40 L138.11,60.34 L139.44,60.30 L140.78,60.28 L142.13,60.28 L143.48,60.29 L144.83,60.32 L146.16,60.35 L147.47,60.40 L148.75,60.45 L150.00,60.50 L151.07,60.55 L152.15,60.59 L153.22,60.64 L154.27,60.70 L155.31,60.77 L156.32,60.84 L157.31,60.93 L158.25,61.03 L159.15,61.16 L160.00,61.30 L160.58,61.41 L161.14,61.53 L161.68,61.65 L162.19,61.77 L162.69,61.91 L163.18,62.06 L163.65,62.22 L164.11,62.39 L164.56,62.59 L165.00,62.80 L165.39,63.01 L165.77,63.24 L166.12,63.48 L166.47,63.73 L166.81,63.99 L167.14,64.27 L167.47,64.56 L167.81,64.86 L168.15,65.17 L168.50,65.50 L168.94,65.92 L169.38,66.35 L169.81,66.79 L170.25,67.26 L170.69,67.74 L171.13,68.25 L171.59,68.79 L172.05,69.36 L172.52,69.96 L173.00,70.60 L173.78,71.68 L174.61,72.88 L175.47,74.17 L176.36,75.54 L177.25,76.97 L178.15,78.44 L179.03,79.94 L179.89,81.44 L180.72,82.93 L181.50,84.40 L182.26,85.89 L183.00,87.42 L183.71,88.97 L184.41,90.54 L185.09,92.12 L185.75,93.69 L186.39,95.26 L187.01,96.80 L187.62,98.32 L188.20,99.80 L188.69,101.06 L189.15,102.30 L189.60,103.52 L190.02,104.73 L190.44,105.93 L190.85,107.12 L191.26,108.31 L191.66,109.50 L192.08,110.70 L192.50,111.90" fill="none" stroke="#90D04C" stroke-width="2.8" stroke-linejoin="round"/>
<path d="M80.00,354.50 L80.12,351.05 L80.25,347.60 L80.37,344.16 L80.50,340.71 L80.63,337.27 L80.75,333.82 L80.87,330.37 L80.99,326.92 L81.10,323.46 L81.20,320.00 L81.29,316.53 L81.35,313.09 L81.40,309.66 L81.45,306.23 L81.49,302.79 L81.55,299.32 L81.62,295.83 L81.71,292.28 L81.84,288.68 L82.00,285.00 L82.24,280.74 L82.53,276.40 L82.87,271.99 L83.23,267.52 L83.62,263.00 L84.01,258.44 L84.41,253.85 L84.80,249.24 L85.16,244.62 L85.50,240.00 L85.83,235.11 L86.14,230.17 L86.44,225.20 L86.73,220.19 L87.01,215.17 L87.30,210.13 L87.59,205.08 L87.88,200.04 L88.18,195.01 L88.50,190.00 L88.82,184.94 L89.14,179.79 L89.45,174.59 L89.78,169.38 L90.10,164.20 L90.44,159.08 L90.80,154.06 L91.17,149.18 L91.57,144.48 L92.00,140.00 L92.35,136.65 L92.71,133.38 L93.08,130.19 L93.46,127.07 L93.85,124.03 L94.26,121.07 L94.67,118.18 L95.10,115.38 L95.54,112.65 L96.00,110.00 L96.36,107.98 L96.73,106.01 L97.10,104.08 L97.48,102.19 L97.86,100.35 L98.26,98.57 L98.67,96.84 L99.10,95.17 L99.54,93.55 L100.00,92.00 L100.36,90.86 L100.72,89.75 L101.08,88.67 L101.45,87.63 L101.83,86.63 L102.23,85.65 L102.64,84.70 L103.07,83.77 L103.52,82.88 L104.00,82.00 L104.44,81.26 L104.89,80.54 L105.37,79.84 L105.85,79.17 L106.35,78.51 L106.86,77.88 L107.39,77.26 L107.92,76.66 L108.46,76.07 L109.00,75.50 L109.52,74.99 L110.05,74.50 L110.60,74.03 L111.16,73.58 L111.72,73.14 L112.29,72.71 L112.85,72.29 L113.41,71.86 L113.96,71.43 L114.50,71.00 L114.99,70.58 L115.45,70.16 L115.91,69.72 L116.35,69.29 L116.80,68.87 L117.26,68.45 L117.73,68.05 L118.22,67.67 L118.74,67.32 L119.30,67.00 L119.97,66.67 L120.67,66.39 L121.40,66.13 L122.16,65.90 L122.93,65.69 L123.73,65.50 L124.55,65.32 L125.39,65.15 L126.24,64.98 L127.10,64.80 L128.17,64.59 L129.25,64.39 L130.37,64.20 L131.50,64.02 L132.67,63.86 L133.86,63.70 L135.09,63.56 L136.35,63.43 L137.66,63.31 L139.00,63.20 L140.93,63.05 L143.06,62.90 L145.32,62.75 L147.66,62.61 L150.03,62.50 L152.37,62.44 L154.62,62.42 L156.73,62.47 L158.64,62.59 L160.30,62.80 L161.15,62.95 L161.94,63.10 L162.69,63.27 L163.39,63.45 L164.06,63.66 L164.69,63.90 L165.29,64.17 L165.88,64.50 L166.44,64.87 L167.00,65.30 L167.62,65.87 L168.19,66.53 L168.74,67.25 L169.25,68.03 L169.74,68.86 L170.19,69.73 L170.62,70.63 L171.04,71.54 L171.43,72.47 L171.80,73.40 L172.19,74.50 L172.54,75.65 L172.85,76.86 L173.12,78.09 L173.37,79.35 L173.60,80.62 L173.82,81.88 L174.04,83.12 L174.26,84.34 L174.50,85.50 L174.72,86.49 L174.93,87.47 L175.13,88.43 L175.33,89.37 L175.53,90.30 L175.73,91.24 L175.92,92.17 L176.11,93.10 L176.31,94.04 L176.50,95.00 L176.70,95.99 L176.89,96.98 L177.08,97.98 L177.27,98.98 L177.46,99.98 L177.65,100.99 L177.83,101.99 L178.02,103.00 L178.21,104.00 L178.40,105.00" fill="none" stroke="#90D04C" stroke-width="2.9" stroke-dasharray="0.01,4.9" stroke-linecap="round" stroke-linejoin="round"/>
<path d="M80.00,354.50 L80.12,351.05 L80.25,347.60 L80.37,344.16 L80.50,340.71 L80.63,337.27 L80.75,333.82 L80.87,330.37 L80.99,326.92 L81.10,323.46 L81.20,320.00 L81.29,316.53 L81.35,313.09 L81.39,309.66 L81.43,306.23 L81.47,302.79 L81.52,299.32 L81.59,295.83 L81.68,292.28 L81.82,288.68 L82.00,285.00 L82.27,280.74 L82.61,276.40 L82.99,271.99 L83.42,267.52 L83.86,263.00 L84.32,258.44 L84.78,253.85 L85.22,249.24 L85.63,244.62 L86.00,240.00 L86.35,235.11 L86.67,230.17 L86.98,225.20 L87.27,220.19 L87.55,215.17 L87.82,210.13 L88.10,205.08 L88.39,200.04 L88.69,195.01 L89.00,190.00 L89.32,184.94 L89.63,179.79 L89.94,174.59 L90.25,169.38 L90.58,164.20 L90.91,159.07 L91.27,154.06 L91.65,149.18 L92.06,144.48 L92.50,140.00 L92.87,136.65 L93.25,133.36 L93.64,130.16 L94.05,127.02 L94.48,123.97 L94.91,121.00 L95.36,118.12 L95.83,115.32 L96.31,112.61 L96.80,110.00 L97.18,108.07 L97.56,106.19 L97.95,104.35 L98.35,102.56 L98.75,100.83 L99.17,99.14 L99.60,97.52 L100.05,95.95 L100.51,94.44 L101.00,93.00 L101.38,91.96 L101.76,90.96 L102.16,90.00 L102.56,89.07 L102.97,88.18 L103.39,87.31 L103.83,86.46 L104.27,85.63 L104.73,84.81 L105.20,84.00 L105.64,83.28 L106.10,82.56 L106.56,81.86 L107.04,81.17 L107.53,80.50 L108.02,79.85 L108.52,79.22 L109.02,78.62 L109.51,78.05 L110.00,77.50 L110.39,77.09 L110.76,76.70 L111.12,76.33 L111.48,75.98 L111.85,75.65 L112.23,75.32 L112.62,75.00 L113.05,74.67 L113.50,74.34 L114.00,74.00 L114.79,73.48 L115.67,72.94 L116.60,72.39 L117.59,71.83 L118.62,71.28 L119.69,70.75 L120.77,70.25 L121.85,69.78 L122.94,69.36 L124.00,69.00 L125.05,68.70 L126.11,68.45 L127.17,68.24 L128.24,68.06 L129.33,67.92 L130.42,67.80 L131.54,67.69 L132.67,67.60 L133.82,67.50 L135.00,67.40 L136.42,67.29 L137.89,67.20 L139.41,67.13 L140.96,67.07 L142.53,67.02 L144.09,66.99 L145.63,66.96 L147.14,66.94 L148.60,66.92 L150.00,66.90 L151.12,66.88 L152.23,66.85 L153.33,66.82 L154.41,66.79 L155.46,66.77 L156.50,66.76 L157.50,66.77 L158.47,66.79 L159.40,66.83 L160.30,66.90 L160.95,66.96 L161.58,67.03 L162.19,67.10 L162.79,67.18 L163.37,67.27 L163.93,67.38 L164.47,67.50 L165.00,67.64 L165.51,67.81 L166.00,68.00 L166.40,68.19 L166.79,68.39 L167.16,68.61 L167.51,68.85 L167.85,69.10 L168.19,69.36 L168.52,69.63 L168.84,69.91 L169.17,70.20 L169.50,70.50 L169.87,70.83 L170.23,71.17 L170.58,71.51 L170.93,71.87 L171.28,72.24 L171.62,72.63 L171.97,73.05 L172.31,73.49 L172.65,73.98 L173.00,74.50 L173.56,75.44 L174.12,76.50 L174.68,77.66 L175.23,78.91 L175.79,80.21 L176.34,81.56 L176.89,82.93 L177.43,84.31 L177.97,85.67 L178.50,87.00 L179.05,88.40 L179.60,89.82 L180.13,91.26 L180.66,92.71 L181.19,94.17 L181.71,95.64 L182.23,97.11 L182.75,98.58 L183.27,100.04 L183.80,101.50" fill="none" stroke="#90D04C" stroke-width="2.8" stroke-linejoin="round"/>
<path d="M80.00,354.50 L80.12,351.05 L80.25,347.60 L80.37,344.16 L80.50,340.71 L80.63,337.27 L80.75,333.82 L80.87,330.37 L80.99,326.92 L81.10,323.46 L81.20,320.00 L81.29,316.55 L81.37,313.14 L81.44,309.77 L81.50,306.40 L81.56,303.01 L81.62,299.58 L81.70,296.09 L81.78,292.51 L81.88,288.82 L82.00,285.00 L82.18,279.96 L82.40,274.65 L82.64,269.13 L82.90,263.47 L83.17,257.73 L83.45,251.96 L83.73,246.25 L84.00,240.64 L84.26,235.20 L84.50,230.00 L84.69,225.76 L84.88,221.66 L85.05,217.67 L85.23,213.76 L85.40,209.88 L85.58,206.02 L85.75,202.13 L85.93,198.18 L86.11,194.15 L86.30,190.00 L86.51,185.19 L86.73,180.21 L86.94,175.13 L87.16,169.97 L87.38,164.79 L87.60,159.62 L87.84,154.52 L88.08,149.52 L88.33,144.66 L88.60,140.00 L88.83,136.17 L89.06,132.33 L89.30,128.50 L89.54,124.73 L89.78,121.04 L90.04,117.47 L90.31,114.05 L90.59,110.81 L90.89,107.78 L91.20,105.00 L91.40,103.43 L91.61,101.96 L91.82,100.56 L92.04,99.24 L92.26,97.97 L92.49,96.75 L92.72,95.55 L92.94,94.37 L93.17,93.19 L93.40,92.00 L93.59,90.98 L93.78,89.97 L93.97,88.99 L94.16,88.02 L94.35,87.07 L94.54,86.12 L94.74,85.19 L94.95,84.26 L95.17,83.33 L95.40,82.40 L95.63,81.51 L95.85,80.62 L96.08,79.72 L96.31,78.84 L96.55,77.96 L96.81,77.09 L97.08,76.24 L97.36,75.40 L97.67,74.59 L98.00,73.80 L98.32,73.11 L98.64,72.44 L98.98,71.78 L99.33,71.14 L99.70,70.51 L100.08,69.89 L100.48,69.29 L100.90,68.69 L101.34,68.09 L101.80,67.50 L102.32,66.86 L102.86,66.23 L103.42,65.59 L104.00,64.97 L104.60,64.35 L105.23,63.76 L105.88,63.18 L106.56,62.62 L107.27,62.10 L108.00,61.60 L108.87,61.08 L109.80,60.58 L110.77,60.12 L111.78,59.68 L112.81,59.27 L113.86,58.88 L114.91,58.52 L115.96,58.19 L116.99,57.88 L118.00,57.60 L118.92,57.37 L119.84,57.17 L120.76,56.99 L121.68,56.84 L122.60,56.71 L123.51,56.60 L124.42,56.49 L125.32,56.39 L126.22,56.30 L127.10,56.20 L127.91,56.11 L128.71,56.02 L129.51,55.94 L130.29,55.86 L131.08,55.80 L131.86,55.74 L132.64,55.69 L133.42,55.65 L134.21,55.62 L135.00,55.60 L135.81,55.59 L136.63,55.57 L137.47,55.56 L138.31,55.55 L139.14,55.56 L139.96,55.59 L140.77,55.64 L141.55,55.72 L142.29,55.84 L143.00,56.00 L143.56,56.16 L144.11,56.35 L144.65,56.56 L145.17,56.79 L145.68,57.03 L146.17,57.30 L146.63,57.58 L147.08,57.87 L147.50,58.18 L147.90,58.50 L148.23,58.80 L148.53,59.12 L148.81,59.45 L149.07,59.79 L149.32,60.15 L149.55,60.51 L149.79,60.88 L150.02,61.26 L150.26,61.63 L150.50,62.00 L150.76,62.38 L151.00,62.76 L151.24,63.13 L151.48,63.51 L151.72,63.89 L151.96,64.29 L152.20,64.70 L152.46,65.14 L152.72,65.60 L153.00,66.10 L153.48,66.98 L154.00,67.97 L154.55,69.03 L155.12,70.16 L155.71,71.32 L156.30,72.51 L156.88,73.70 L157.45,74.88 L157.99,76.02 L158.50,77.10 L158.94,78.03 L159.37,78.96 L159.80,79.89 L160.21,80.80 L160.62,81.71 L161.02,82.61 L161.39,83.48 L161.75,84.34 L162.09,85.18 L162.40,86.00 L162.63,86.62 L162.83,87.23 L163.02,87.82 L163.20,88.40 L163.37,88.97 L163.53,89.53 L163.70,90.09 L163.86,90.66 L164.03,91.22 L164.20,91.80" fill="none" stroke="#C8000A" stroke-width="2.7" stroke-linejoin="round"/>
<path d="M141.00,50.20 L141.44,50.37 L141.88,50.53 L142.33,50.69 L142.77,50.84 L143.22,51.00 L143.66,51.16 L144.09,51.34 L144.51,51.53 L144.92,51.75 L145.30,52.00 L145.67,52.28 L146.01,52.58 L146.35,52.90 L146.67,53.24 L146.98,53.59 L147.28,53.96 L147.58,54.33 L147.89,54.72 L148.19,55.11 L148.50,55.50 L148.86,55.95 L149.21,56.42 L149.57,56.91 L149.93,57.40 L150.28,57.90 L150.63,58.42 L150.98,58.93 L151.33,59.45 L151.67,59.98 L152.00,60.50 L152.33,61.03 L152.66,61.56 L152.97,62.08 L153.28,62.61 L153.58,63.15 L153.89,63.69 L154.20,64.26 L154.52,64.85 L154.86,65.46 L155.20,66.10 L155.70,67.05 L156.23,68.08 L156.78,69.16 L157.34,70.28 L157.91,71.44 L158.49,72.60 L159.06,73.77 L159.62,74.91 L160.17,76.03 L160.70,77.10 L161.16,78.03 L161.62,78.95 L162.08,79.85 L162.53,80.75 L162.98,81.64 L163.42,82.52 L163.85,83.40 L164.28,84.27 L164.69,85.13 L165.10,86.00 L165.47,86.80 L165.82,87.59 L166.17,88.37 L166.51,89.15 L166.84,89.93 L167.17,90.70 L167.50,91.47 L167.83,92.25 L168.16,93.02 L168.50,93.80" fill="none" stroke="#C8000A" stroke-width="2.7" stroke-linejoin="round"/>
<path d="M80.00,354.50 L80.12,351.05 L80.25,347.60 L80.37,344.16 L80.50,340.71 L80.63,337.27 L80.75,333.82 L80.87,330.37 L80.99,326.92 L81.10,323.46 L81.20,320.00 L81.29,316.55 L81.37,313.14 L81.44,309.77 L81.50,306.40 L81.56,303.01 L81.62,299.58 L81.70,296.09 L81.78,292.51 L81.88,288.82 L82.00,285.00 L82.18,279.99 L82.40,274.75 L82.64,269.33 L82.90,263.76 L83.17,258.11 L83.45,252.41 L83.73,246.70 L84.00,241.03 L84.26,235.45 L84.50,230.00 L84.71,224.91 L84.92,219.89 L85.12,214.90 L85.31,209.94 L85.50,205.00 L85.69,200.06 L85.88,195.10 L86.08,190.11 L86.29,185.09 L86.50,180.00 L86.73,174.51 L86.96,168.82 L87.20,163.02 L87.44,157.16 L87.69,151.32 L87.94,145.58 L88.20,140.01 L88.46,134.67 L88.73,129.64 L89.00,125.00 L89.19,122.08 L89.37,119.27 L89.56,116.58 L89.75,113.99 L89.94,111.49 L90.14,109.07 L90.34,106.72 L90.55,104.43 L90.77,102.20 L91.00,100.00 L91.18,98.33 L91.36,96.72 L91.54,95.15 L91.73,93.62 L91.92,92.13 L92.12,90.66 L92.32,89.23 L92.54,87.80 L92.76,86.40 L93.00,85.00 L93.22,83.78 L93.44,82.57 L93.66,81.39 L93.90,80.22 L94.13,79.06 L94.38,77.92 L94.64,76.80 L94.92,75.68 L95.20,74.59 L95.50,73.50 L95.78,72.51 L96.06,71.53 L96.35,70.55 L96.64,69.58 L96.95,68.63 L97.27,67.70 L97.62,66.78 L97.98,65.89 L98.38,65.03 L98.80,64.20 L99.21,63.47 L99.63,62.76 L100.07,62.06 L100.53,61.39 L101.01,60.73 L101.51,60.10 L102.02,59.48 L102.56,58.90 L103.12,58.33 L103.70,57.80 L104.31,57.30 L104.94,56.82 L105.60,56.38 L106.29,55.95 L106.99,55.55 L107.70,55.17 L108.42,54.81 L109.15,54.46 L109.88,54.13 L110.60,53.80 L111.31,53.49 L112.03,53.21 L112.74,52.94 L113.47,52.69 L114.20,52.45 L114.94,52.23 L115.69,52.01 L116.44,51.80 L117.22,51.60 L118.00,51.40 L118.89,51.18 L119.81,50.97 L120.76,50.77 L121.71,50.57 L122.68,50.39 L123.65,50.22 L124.61,50.06 L125.56,49.92 L126.49,49.80 L127.40,49.70 L128.19,49.63 L128.97,49.57 L129.74,49.52 L130.51,49.49 L131.27,49.46 L132.02,49.45 L132.77,49.45 L133.51,49.46 L134.26,49.48 L135.00,49.50 L135.73,49.53 L136.47,49.55 L137.21,49.59 L137.96,49.63 L138.70,49.68 L139.42,49.74 L140.12,49.82 L140.79,49.92 L141.42,50.05 L142.00,50.20 L142.39,50.32 L142.76,50.45 L143.11,50.59 L143.45,50.74 L143.77,50.90 L144.09,51.07 L144.39,51.26 L144.69,51.46 L145.00,51.67 L145.30,51.90 L145.64,52.18 L145.98,52.49 L146.31,52.82 L146.63,53.17 L146.94,53.54 L147.25,53.92 L147.57,54.31 L147.87,54.70 L148.19,55.10 L148.50,55.50 L148.86,55.96 L149.21,56.43 L149.57,56.91 L149.93,57.41 L150.28,57.91 L150.63,58.42 L150.98,58.94 L151.33,59.46 L151.67,59.98 L152.00,60.50 L152.33,61.03 L152.66,61.56 L152.97,62.08 L153.28,62.61 L153.58,63.15 L153.89,63.69 L154.20,64.26 L154.52,64.85 L154.86,65.46 L155.20,66.10 L155.70,67.05 L156.23,68.08 L156.78,69.16 L157.34,70.28 L157.91,71.44 L158.49,72.60 L159.06,73.77 L159.62,74.91 L160.17,76.03 L160.70,77.10 L161.16,78.03 L161.62,78.95 L162.08,79.85 L162.53,80.75 L162.98,81.64 L163.42,82.52 L163.85,83.40 L164.28,84.27 L164.69,85.13 L165.10,86.00 L165.47,86.80 L165.82,87.59 L166.17,88.37 L166.51,89.15 L166.84,89.93 L167.17,90.70 L167.50,91.47 L167.83,92.25 L168.16,93.02 L168.50,93.80" fill="none" stroke="#C8000A" stroke-width="2.8" stroke-dasharray="9,7" stroke-dashoffset="13" stroke-linejoin="round"/>
<path d="M80.00,354.50 L80.12,351.05 L80.25,347.60 L80.37,344.16 L80.50,340.71 L80.63,337.27 L80.75,333.82 L80.87,330.37 L80.99,326.92 L81.10,323.46 L81.20,320.00 L81.29,316.55 L81.37,313.14 L81.44,309.77 L81.50,306.40 L81.56,303.01 L81.62,299.58 L81.70,296.09 L81.78,292.51 L81.88,288.82 L82.00,285.00 L82.18,279.98 L82.40,274.70 L82.64,269.23 L82.89,263.63 L83.16,257.93 L83.44,252.20 L83.72,246.48 L83.99,240.84 L84.25,235.33 L84.50,230.00 L84.71,225.35 L84.91,220.81 L85.11,216.37 L85.30,211.99 L85.50,207.62 L85.69,203.25 L85.88,198.83 L86.08,194.34 L86.29,189.74 L86.50,185.00 L86.75,179.23 L87.00,173.14 L87.25,166.82 L87.50,160.38 L87.76,153.92 L88.02,147.55 L88.30,141.37 L88.59,135.48 L88.89,129.99 L89.20,125.00 L89.41,122.04 L89.62,119.24 L89.84,116.56 L90.06,114.01 L90.29,111.55 L90.52,109.16 L90.75,106.83 L90.99,104.54 L91.24,102.27 L91.50,100.00 L91.72,98.09 L91.93,96.20 L92.14,94.32 L92.35,92.48 L92.57,90.68 L92.80,88.91 L93.05,87.20 L93.31,85.54 L93.59,83.93 L93.90,82.40 L94.14,81.28 L94.39,80.19 L94.65,79.14 L94.91,78.12 L95.18,77.12 L95.47,76.16 L95.77,75.21 L96.09,74.29 L96.43,73.39 L96.80,72.50 L97.13,71.74 L97.47,70.99 L97.83,70.26 L98.19,69.55 L98.57,68.86 L98.96,68.18 L99.38,67.52 L99.83,66.87 L100.30,66.23 L100.80,65.60 L101.37,64.94 L101.97,64.29 L102.60,63.65 L103.25,63.02 L103.93,62.42 L104.64,61.83 L105.37,61.26 L106.13,60.71 L106.90,60.19 L107.70,59.70 L108.63,59.19 L109.61,58.71 L110.65,58.25 L111.72,57.82 L112.81,57.42 L113.90,57.05 L114.98,56.70 L116.03,56.38 L117.04,56.08 L118.00,55.80 L118.70,55.61 L119.36,55.44 L119.99,55.29 L120.62,55.15 L121.23,55.03 L121.85,54.92 L122.47,54.81 L123.12,54.71 L123.79,54.61 L124.50,54.50 L125.45,54.36 L126.46,54.22 L127.51,54.09 L128.58,53.96 L129.68,53.84 L130.78,53.73 L131.87,53.64 L132.95,53.57 L134.00,53.52 L135.00,53.50 L135.86,53.49 L136.73,53.47 L137.61,53.46 L138.47,53.46 L139.32,53.48 L140.14,53.53 L140.93,53.61 L141.68,53.75 L142.37,53.94 L143.00,54.20 L143.46,54.46 L143.88,54.75 L144.26,55.09 L144.62,55.45 L144.96,55.84 L145.28,56.24 L145.59,56.67 L145.89,57.11 L146.19,57.55 L146.50,58.00 L146.85,58.52 L147.18,59.07 L147.50,59.63 L147.80,60.21 L148.10,60.81 L148.39,61.43 L148.69,62.06 L148.98,62.69 L149.29,63.34 L149.60,64.00 L149.99,64.80 L150.38,65.63 L150.79,66.48 L151.19,67.34 L151.60,68.22 L152.01,69.12 L152.40,70.01 L152.79,70.91 L153.15,71.81 L153.50,72.70 L153.82,73.58 L154.13,74.48 L154.43,75.39 L154.71,76.30 L154.98,77.22 L155.25,78.12 L155.51,79.02 L155.77,79.90 L156.04,80.76 L156.30,81.60 L156.53,82.30 L156.77,82.97 L157.01,83.63 L157.24,84.28 L157.48,84.92 L157.70,85.56 L157.92,86.20 L158.13,86.85 L158.32,87.52 L158.50,88.20 L158.67,88.95 L158.82,89.71 L158.95,90.48 L159.06,91.26 L159.17,92.05 L159.28,92.84 L159.38,93.63 L159.48,94.43 L159.59,95.22 L159.70,96.00" fill="none" stroke="#C8000A" stroke-width="2.9" stroke-dasharray="0.01,4.9" stroke-linecap="round" stroke-linejoin="round"/>
<path d="M80.00,354.50 L80.12,351.05 L80.25,347.60 L80.37,344.16 L80.50,340.71 L80.63,337.27 L80.75,333.82 L80.87,330.37 L80.99,326.92 L81.10,323.46 L81.20,320.00 L81.29,316.48 L81.37,312.90 L81.44,309.29 L81.51,305.67 L81.57,302.06 L81.64,298.48 L81.71,294.97 L81.79,291.53 L81.89,288.20 L82.00,285.00 L82.11,282.49 L82.22,280.04 L82.34,277.64 L82.47,275.29 L82.60,272.98 L82.74,270.72 L82.87,268.49 L83.02,266.30 L83.16,264.14 L83.30,262.00 L83.42,260.19 L83.55,258.42 L83.67,256.68 L83.80,254.96 L83.93,253.27 L84.06,251.60 L84.19,249.94 L84.32,248.29 L84.46,246.64 L84.60,245.00 L84.73,243.45 L84.84,241.90 L84.96,240.35 L85.08,238.81 L85.19,237.28 L85.32,235.77 L85.46,234.28 L85.62,232.82 L85.80,231.39 L86.00,230.00 L86.19,228.83 L86.38,227.68 L86.57,226.54 L86.78,225.42 L87.00,224.33 L87.24,223.25 L87.49,222.20 L87.77,221.17 L88.07,220.17 L88.40,219.20 L88.70,218.39 L89.02,217.60 L89.36,216.82 L89.71,216.07 L90.08,215.33 L90.46,214.61 L90.86,213.91 L91.26,213.22 L91.68,212.55 L92.10,211.90 L92.50,211.32 L92.91,210.76 L93.34,210.22 L93.78,209.69 L94.22,209.17 L94.67,208.67 L95.13,208.17 L95.59,207.68 L96.04,207.19 L96.50,206.70 L96.94,206.24 L97.38,205.78 L97.82,205.33 L98.26,204.89 L98.71,204.45 L99.16,204.02 L99.61,203.59 L100.07,203.16 L100.53,202.73 L101.00,202.30 L101.49,201.85 L101.99,201.40 L102.49,200.95 L103.00,200.50 L103.51,200.05 L104.02,199.61 L104.54,199.17 L105.06,198.74 L105.58,198.31 L106.10,197.90 L106.61,197.50 L107.12,197.12 L107.64,196.73 L108.16,196.36 L108.68,195.99 L109.21,195.62 L109.73,195.26 L110.25,194.90 L110.78,194.55 L111.30,194.20 L111.81,193.86 L112.31,193.53 L112.81,193.21 L113.31,192.88 L113.82,192.57 L114.32,192.25 L114.83,191.94 L115.35,191.62 L115.87,191.31 L116.40,191.00 L116.97,190.67 L117.55,190.34 L118.13,190.02 L118.72,189.69 L119.31,189.37 L119.91,189.05 L120.51,188.73 L121.11,188.42 L121.71,188.11 L122.30,187.80 L122.89,187.50 L123.48,187.19 L124.06,186.89 L124.65,186.59 L125.24,186.30 L125.83,186.01 L126.42,185.72 L127.02,185.44 L127.61,185.17 L128.20,184.90 L128.77,184.65 L129.32,184.41 L129.86,184.19 L130.40,183.97 L130.95,183.75 L131.51,183.53 L132.08,183.31 L132.69,183.08 L133.32,182.85 L134.00,182.60 L135.08,182.21 L136.25,181.80 L137.50,181.37 L138.80,180.92 L140.14,180.47 L141.51,180.02 L142.89,179.57 L144.25,179.13 L145.60,178.71 L146.90,178.30 L148.13,177.92 L149.37,177.54 L150.60,177.17 L151.83,176.81 L153.05,176.45 L154.28,176.10 L155.49,175.76 L156.70,175.43 L157.91,175.11 L159.10,174.80 L160.21,174.52 L161.32,174.26 L162.43,174.00 L163.53,173.76 L164.63,173.52 L165.72,173.28 L166.80,173.06 L167.87,172.84 L168.94,172.62 L170.00,172.40 L170.96,172.21 L171.89,172.03 L172.81,171.86 L173.71,171.70 L174.61,171.54 L175.52,171.37 L176.46,171.20 L177.43,171.02 L178.44,170.82 L179.50,170.60 L181.03,170.26 L182.64,169.88 L184.32,169.46 L186.05,169.03 L187.83,168.58 L189.65,168.13 L191.49,167.69 L193.36,167.26 L195.23,166.86 L197.10,166.50 L199.20,166.14 L201.35,165.80 L203.53,165.49 L205.75,165.19 L207.98,164.91 L210.23,164.64 L212.48,164.38 L214.74,164.12 L216.98,163.86 L219.20,163.60 L221.43,163.33 L223.71,163.07 L226.01,162.80 L228.31,162.54 L230.60,162.28 L232.86,162.04 L235.08,161.80 L237.24,161.58 L239.32,161.38 L241.30,161.20 L242.72,161.07 L244.04,160.96 L245.28,160.85 L246.48,160.75 L247.66,160.66 L248.87,160.58 L250.12,160.50 L251.46,160.43 L252.91,160.36 L254.50,160.30 L257.62,160.20 L261.11,160.13 L264.91,160.07 L268.95,160.03 L273.16,160.01 L277.46,160.00 L281.79,159.99 L286.07,159.99 L290.23,160.00 L294.20,160.00 L297.83,160.00 L301.46,160.01 L305.07,160.01 L308.67,160.03 L312.24,160.05 L315.78,160.07 L319.28,160.11 L322.74,160.16 L326.15,160.22 L329.50,160.30 L332.43,160.38 L335.30,160.46 L338.14,160.54 L340.93,160.64 L343.70,160.74 L346.45,160.86 L349.19,160.99 L351.92,161.14 L354.66,161.31 L357.40,161.50 L360.10,161.71 L362.84,161.93 L365.58,162.16 L368.32,162.42 L371.04,162.68 L373.73,162.97 L376.38,163.27 L378.96,163.60 L381.48,163.94 L383.90,164.30 L385.86,164.61 L387.81,164.93 L389.73,165.26 L391.63,165.60 L393.48,165.96 L395.27,166.33 L396.99,166.72 L398.62,167.13 L400.17,167.55 L401.60,168.00 L402.52,168.31 L403.40,168.63 L404.25,168.95 L405.07,169.28 L405.85,169.61 L406.59,169.96 L407.29,170.32 L407.94,170.70 L408.54,171.09 L409.10,171.50 L409.46,171.81 L409.79,172.13 L410.08,172.47 L410.35,172.81 L410.59,173.15 L410.83,173.51 L411.06,173.86 L411.30,174.21 L411.54,174.56 L411.80,174.90" fill="none" stroke="#EC7428" stroke-width="2.2" stroke-dasharray="12,4.5" stroke-linejoin="round"/>
<path d="M80.00,354.50 L80.12,351.05 L80.25,347.60 L80.37,344.16 L80.50,340.71 L80.63,337.27 L80.75,333.82 L80.87,330.37 L80.99,326.92 L81.10,323.46 L81.20,320.00 L81.29,316.48 L81.37,312.90 L81.44,309.29 L81.51,305.67 L81.57,302.06 L81.64,298.48 L81.71,294.97 L81.79,291.53 L81.89,288.20 L82.00,285.00 L82.11,282.49 L82.22,280.04 L82.34,277.64 L82.47,275.29 L82.60,272.98 L82.74,270.72 L82.87,268.49 L83.02,266.30 L83.16,264.14 L83.30,262.00 L83.42,260.19 L83.55,258.42 L83.67,256.68 L83.80,254.96 L83.93,253.27 L84.06,251.60 L84.19,249.94 L84.32,248.29 L84.46,246.64 L84.60,245.00 L84.73,243.45 L84.84,241.90 L84.96,240.35 L85.08,238.81 L85.19,237.28 L85.32,235.77 L85.46,234.28 L85.62,232.82 L85.80,231.39 L86.00,230.00 L86.19,228.83 L86.38,227.68 L86.57,226.54 L86.78,225.42 L87.00,224.33 L87.24,223.25 L87.49,222.20 L87.77,221.17 L88.07,220.17 L88.40,219.20 L88.70,218.39 L89.02,217.60 L89.36,216.82 L89.71,216.07 L90.08,215.33 L90.46,214.61 L90.86,213.91 L91.26,213.22 L91.68,212.55 L92.10,211.90 L92.50,211.32 L92.91,210.76 L93.34,210.22 L93.78,209.69 L94.22,209.17 L94.67,208.67 L95.13,208.17 L95.59,207.68 L96.04,207.19 L96.50,206.70 L96.94,206.24 L97.38,205.78 L97.82,205.33 L98.26,204.89 L98.71,204.45 L99.16,204.02 L99.61,203.59 L100.07,203.16 L100.53,202.73 L101.00,202.30 L101.49,201.85 L101.99,201.40 L102.49,200.95 L103.00,200.50 L103.51,200.05 L104.02,199.61 L104.54,199.17 L105.06,198.74 L105.58,198.31 L106.10,197.90 L106.61,197.50 L107.12,197.11 L107.64,196.73 L108.16,196.35 L108.68,195.98 L109.20,195.61 L109.73,195.25 L110.25,194.89 L110.77,194.54 L111.30,194.20 L111.80,193.88 L112.31,193.56 L112.81,193.25 L113.31,192.95 L113.81,192.65 L114.32,192.36 L114.83,192.06 L115.35,191.78 L115.87,191.49 L116.40,191.20 L116.97,190.90 L117.55,190.60 L118.13,190.31 L118.72,190.02 L119.32,189.74 L119.92,189.45 L120.51,189.17 L121.11,188.88 L121.71,188.59 L122.30,188.30 L122.89,188.00 L123.48,187.69 L124.07,187.38 L124.66,187.07 L125.25,186.76 L125.83,186.45 L126.42,186.15 L127.01,185.85 L127.61,185.57 L128.20,185.30 L128.77,185.05 L129.32,184.82 L129.86,184.60 L130.40,184.38 L130.94,184.18 L131.50,183.97 L132.08,183.76 L132.69,183.55 L133.32,183.33 L134.00,183.10 L135.08,182.75 L136.25,182.38 L137.50,182.01 L138.80,181.63 L140.15,181.24 L141.52,180.85 L142.89,180.46 L144.26,180.07 L145.60,179.68 L146.90,179.30 L148.14,178.92 L149.37,178.54 L150.60,178.15 L151.83,177.76 L153.06,177.37 L154.28,176.99 L155.49,176.62 L156.70,176.26 L157.90,175.92 L159.10,175.60 L160.21,175.32 L161.32,175.06 L162.43,174.81 L163.53,174.58 L164.63,174.35 L165.72,174.13 L166.80,173.92 L167.87,173.71 L168.94,173.51 L170.00,173.30 L170.96,173.12 L171.89,172.95 L172.81,172.79 L173.71,172.64 L174.61,172.49 L175.52,172.33 L176.46,172.17 L177.43,172.00 L178.44,171.81 L179.50,171.60 L181.03,171.27 L182.64,170.90 L184.32,170.50 L186.05,170.07 L187.83,169.63 L189.65,169.19 L191.49,168.76 L193.36,168.34 L195.23,167.95 L197.10,167.60 L199.20,167.25 L201.35,166.92 L203.53,166.62 L205.75,166.33 L207.98,166.06 L210.23,165.80 L212.48,165.55 L214.74,165.30 L216.98,165.05 L219.20,164.80 L221.43,164.54 L223.71,164.28 L226.01,164.02 L228.31,163.77 L230.60,163.52 L232.86,163.28 L235.08,163.06 L237.24,162.85 L239.32,162.66 L241.30,162.50 L242.72,162.39 L244.04,162.29 L245.28,162.21 L246.48,162.13 L247.67,162.07 L248.87,162.01 L250.12,161.95 L251.46,161.90 L252.91,161.85 L254.50,161.80 L257.62,161.72 L261.11,161.65 L264.92,161.60 L268.96,161.56 L273.16,161.52 L277.46,161.50 L281.79,161.49 L286.07,161.49 L290.23,161.49 L294.20,161.50 L297.83,161.51 L301.46,161.53 L305.07,161.55 L308.67,161.59 L312.24,161.62 L315.78,161.67 L319.28,161.73 L322.74,161.81 L326.15,161.90 L329.50,162.00 L332.43,162.10 L335.30,162.22 L338.14,162.34 L340.93,162.48 L343.70,162.62 L346.45,162.77 L349.19,162.94 L351.92,163.12 L354.66,163.30 L357.40,163.50 L360.10,163.70 L362.84,163.89 L365.58,164.09 L368.32,164.30 L371.04,164.53 L373.73,164.77 L376.38,165.03 L378.97,165.32 L381.48,165.64 L383.90,166.00 L385.85,166.31 L387.77,166.63 L389.66,166.96 L391.52,167.30 L393.33,167.67 L395.10,168.06 L396.82,168.48 L398.48,168.94 L400.07,169.45 L401.60,170.00 L402.77,170.49 L403.87,171.01 L404.92,171.57 L405.94,172.15 L406.92,172.76 L407.89,173.37 L408.85,173.99 L409.82,174.60 L410.80,175.21 L411.80,175.80" fill="none" stroke="#EC7428" stroke-width="2.9" stroke-dasharray="0.01,4.9" stroke-linecap="round" stroke-linejoin="round"/>
<path d="M80.00,354.50 L80.12,351.05 L80.25,347.60 L80.37,344.16 L80.50,340.71 L80.63,337.27 L80.75,333.82 L80.87,330.37 L80.99,326.92 L81.10,323.46 L81.20,320.00 L81.29,316.47 L81.37,312.86 L81.44,309.21 L81.50,305.55 L81.56,301.91 L81.62,298.31 L81.70,294.79 L81.78,291.38 L81.88,288.11 L82.00,285.00 L82.11,282.76 L82.22,280.60 L82.34,278.50 L82.47,276.46 L82.61,274.47 L82.74,272.52 L82.88,270.61 L83.02,268.73 L83.16,266.86 L83.30,265.00 L83.42,263.40 L83.53,261.83 L83.65,260.29 L83.76,258.76 L83.88,257.26 L84.00,255.77 L84.12,254.31 L84.24,252.86 L84.37,251.42 L84.50,250.00 L84.62,248.74 L84.74,247.48 L84.87,246.23 L85.00,245.00 L85.13,243.78 L85.26,242.58 L85.39,241.40 L85.53,240.24 L85.66,239.11 L85.80,238.00 L85.91,237.10 L86.01,236.22 L86.10,235.37 L86.20,234.53 L86.30,233.71 L86.41,232.89 L86.52,232.08 L86.66,231.26 L86.82,230.44 L87.00,229.60 L87.21,228.71 L87.43,227.80 L87.65,226.89 L87.90,225.97 L88.16,225.06 L88.45,224.15 L88.76,223.26 L89.10,222.38 L89.48,221.53 L89.90,220.70 L90.36,219.89 L90.87,219.11 L91.41,218.34 L91.98,217.58 L92.58,216.84 L93.20,216.12 L93.84,215.40 L94.49,214.69 L95.14,213.99 L95.80,213.30 L96.48,212.60 L97.17,211.92 L97.87,211.25 L98.58,210.59 L99.31,209.94 L100.06,209.29 L100.82,208.65 L101.60,208.00 L102.39,207.35 L103.20,206.70 L104.15,205.95 L105.12,205.19 L106.13,204.43 L107.16,203.67 L108.20,202.91 L109.26,202.16 L110.32,201.42 L111.38,200.69 L112.45,199.99 L113.50,199.30 L114.52,198.65 L115.53,198.02 L116.56,197.40 L117.58,196.78 L118.61,196.19 L119.65,195.60 L120.68,195.03 L121.72,194.47 L122.76,193.93 L123.80,193.40 L124.80,192.90 L125.80,192.42 L126.80,191.95 L127.79,191.50 L128.79,191.06 L129.80,190.63 L130.83,190.21 L131.86,189.80 L132.92,189.39 L134.00,189.00 L135.22,188.59 L136.48,188.20 L137.76,187.84 L139.06,187.49 L140.38,187.15 L141.70,186.81 L143.02,186.46 L144.33,186.10 L145.63,185.72 L146.90,185.30 L148.15,184.85 L149.38,184.37 L150.62,183.87 L151.84,183.35 L153.07,182.83 L154.28,182.30 L155.49,181.79 L156.70,181.30 L157.90,180.83 L159.10,180.40 L160.21,180.03 L161.32,179.67 L162.42,179.32 L163.52,178.99 L164.61,178.67 L165.70,178.36 L166.79,178.07 L167.87,177.80 L168.94,177.54 L170.00,177.30 L170.95,177.10 L171.86,176.92 L172.75,176.77 L173.62,176.63 L174.50,176.50 L175.40,176.37 L176.33,176.24 L177.32,176.11 L178.37,175.96 L179.50,175.80 L181.51,175.51 L183.71,175.20 L186.06,174.87 L188.55,174.53 L191.13,174.18 L193.78,173.82 L196.48,173.46 L199.18,173.10 L201.86,172.75 L204.50,172.40 L207.37,172.02 L210.31,171.64 L213.31,171.24 L216.34,170.85 L219.37,170.45 L222.40,170.07 L225.38,169.70 L228.31,169.34 L231.16,169.01 L233.90,168.70 L236.08,168.46 L238.14,168.23 L240.13,168.02 L242.08,167.81 L244.00,167.62 L245.95,167.44 L247.94,167.26 L250.01,167.10 L252.18,166.95 L254.50,166.80 L257.96,166.62 L261.65,166.46 L265.53,166.33 L269.56,166.21 L273.69,166.12 L277.87,166.03 L282.05,165.96 L286.20,165.90 L290.27,165.85 L294.20,165.80 L297.82,165.76 L301.42,165.72 L304.99,165.69 L308.54,165.66 L312.08,165.65 L315.59,165.65 L319.09,165.66 L322.57,165.69 L326.04,165.74 L329.50,165.80 L332.80,165.88 L336.08,165.96 L339.34,166.06 L342.60,166.18 L345.84,166.30 L349.06,166.45 L352.27,166.61 L355.46,166.78 L358.64,166.98 L361.80,167.20 L364.86,167.42 L367.98,167.66 L371.13,167.91 L374.27,168.18 L377.38,168.46 L380.43,168.76 L383.37,169.08 L386.19,169.43 L388.84,169.80 L391.30,170.20 L392.84,170.47 L394.29,170.75 L395.67,171.02 L396.99,171.30 L398.26,171.59 L399.50,171.91 L400.73,172.25 L401.96,172.63 L403.21,173.04 L404.50,173.50 L405.89,174.05 L407.28,174.66 L408.66,175.31 L410.04,176.01 L411.42,176.73 L412.79,177.47 L414.17,178.22 L415.54,178.96 L416.92,179.69 L418.30,180.40" fill="none" stroke="#EC7428" stroke-width="2.7" stroke-linejoin="round"/>
<path d="M80.3,354.5 L81.2,320 L82,285 L83,262" fill="none" stroke="#6C24A6" stroke-width="2.6"/>
<path d="M80.3,354.5 L81.2,320 L82,285 L83,262" fill="none" stroke="#EC7428" stroke-width="2.6" stroke-dasharray="3.2,3"/>
<line x1="76" y1="354.50" x2="80.0" y2="354.50" stroke="#000" stroke-width="1"/>
<text x="68.8" y="358.80" text-anchor="end" font-size="13.7" textLength="7.0" lengthAdjust="spacingAndGlyphs">0</text>
<line x1="76" y1="316.28" x2="80.0" y2="316.28" stroke="#000" stroke-width="1"/>
<text x="68.8" y="320.58" text-anchor="end" font-size="13.7" textLength="19.4" lengthAdjust="spacingAndGlyphs">200</text>
<line x1="76" y1="278.06" x2="80.0" y2="278.06" stroke="#000" stroke-width="1"/>
<text x="68.8" y="282.36" text-anchor="end" font-size="13.7" textLength="19.4" lengthAdjust="spacingAndGlyphs">400</text>
<line x1="76" y1="239.83" x2="80.0" y2="239.83" stroke="#000" stroke-width="1"/>
<text x="68.8" y="244.13" text-anchor="end" font-size="13.7" textLength="19.4" lengthAdjust="spacingAndGlyphs">600</text>
<line x1="76" y1="201.61" x2="80.0" y2="201.61" stroke="#000" stroke-width="1"/>
<text x="68.8" y="205.91" text-anchor="end" font-size="13.7" textLength="19.4" lengthAdjust="spacingAndGlyphs">800</text>
<line x1="76" y1="163.39" x2="80.0" y2="163.39" stroke="#000" stroke-width="1"/>
<text x="68.8" y="167.69" text-anchor="end" font-size="13.7" textLength="25.8" lengthAdjust="spacingAndGlyphs">1000</text>
<line x1="76" y1="125.17" x2="80.0" y2="125.17" stroke="#000" stroke-width="1"/>
<text x="68.8" y="129.47" text-anchor="end" font-size="13.7" textLength="25.8" lengthAdjust="spacingAndGlyphs">1200</text>
<line x1="76" y1="86.94" x2="80.0" y2="86.94" stroke="#000" stroke-width="1"/>
<text x="68.8" y="91.24" text-anchor="end" font-size="13.7" textLength="25.8" lengthAdjust="spacingAndGlyphs">1400</text>
<line x1="76" y1="48.72" x2="80.0" y2="48.72" stroke="#000" stroke-width="1"/>
<text x="68.8" y="53.02" text-anchor="end" font-size="13.7" textLength="25.8" lengthAdjust="spacingAndGlyphs">1600</text>
<line x1="76" y1="10.50" x2="80.0" y2="10.50" stroke="#000" stroke-width="1"/>
<text x="68.8" y="14.80" text-anchor="end" font-size="13.7" textLength="25.8" lengthAdjust="spacingAndGlyphs">1800</text>
<line x1="80.00" y1="354.5" x2="80.00" y2="358" stroke="#000" stroke-width="1"/>
<text x="80.00" y="374.8" text-anchor="middle" font-size="14" textLength="23.3" lengthAdjust="spacingAndGlyphs">0.00</text>
<line x1="155.67" y1="354.5" x2="155.67" y2="358" stroke="#000" stroke-width="1"/>
<text x="155.67" y="374.8" text-anchor="middle" font-size="14" textLength="23.3" lengthAdjust="spacingAndGlyphs">0.05</text>
<line x1="231.33" y1="354.5" x2="231.33" y2="358" stroke="#000" stroke-width="1"/>
<text x="231.33" y="374.8" text-anchor="middle" font-size="14" textLength="23.3" lengthAdjust="spacingAndGlyphs">0.10</text>
<line x1="307.00" y1="354.5" x2="307.00" y2="358" stroke="#000" stroke-width="1"/>
<text x="307.00" y="374.8" text-anchor="middle" font-size="14" textLength="23.3" lengthAdjust="spacingAndGlyphs">0.15</text>
<line x1="382.67" y1="354.5" x2="382.67" y2="358" stroke="#000" stroke-width="1"/>
<text x="382.67" y="374.8" text-anchor="middle" font-size="14" textLength="23.3" lengthAdjust="spacingAndGlyphs">0.20</text>
<line x1="458.33" y1="354.5" x2="458.33" y2="358" stroke="#000" stroke-width="1"/>
<text x="458.33" y="374.8" text-anchor="middle" font-size="14" textLength="23.3" lengthAdjust="spacingAndGlyphs">0.25</text>
<line x1="534.00" y1="354.5" x2="534.00" y2="358" stroke="#000" stroke-width="1"/>
<text x="534.00" y="374.8" text-anchor="middle" font-size="14" textLength="23.3" lengthAdjust="spacingAndGlyphs">0.30</text>
<text x="304.2" y="400.2" text-anchor="middle" font-size="14.8" font-weight="bold">Engineering Strain</text>
<text transform="translate(18.9,185) rotate(-90)" x="0" y="0" text-anchor="middle" font-size="14.8" font-weight="bold">Engineering Stress (MPa)</text>
<text x="103.3" y="302.50" font-size="15">JIS tensile test in TD</text>
<text x="103.3" y="319.60" font-size="15">Extensometer length = 50 mm</text>
<text x="103.3" y="336.70" font-size="15">Sheet thickness = 1.0 ~ 1.6 mm</text>
<line x1="378.7" y1="283.6" x2="415.7" y2="283.6" stroke="#000" stroke-width="2.2" stroke-dasharray="2,1.9"/>
<text x="425" y="287.7" font-size="15">t = 1.0 mm</text>
<line x1="378.7" y1="301.8" x2="413" y2="301.8" stroke="#000" stroke-width="2.2" stroke-dasharray="7.7,5.3"/>
<text x="425" y="304.9" font-size="15">t = 1.2 mm</text>
<line x1="378.7" y1="320.4" x2="416.5" y2="320.4" stroke="#000" stroke-width="2.2" stroke-dasharray="15.1,5.5"/>
<text x="425" y="321.9" font-size="15">t = 1.4 mm</text>
<line x1="378.7" y1="335.6" x2="416.7" y2="335.6" stroke="#000" stroke-width="2.2"/>
<text x="425" y="338.7" font-size="15">t = 1.5 – 1.6 mm</text>
<text x="106" y="38.6" font-size="14.7" font-weight="bold" fill="#C8000A">MS1500</text>
<text x="178.3" y="69.6" font-size="14.7" font-weight="bold" fill="#90D04C">PHS1500</text>
<text x="201.8" y="106.8" font-size="15" font-weight="bold" fill="#000">MP1180</text>
<text x="354.3" y="122.3" font-size="15" font-weight="bold" fill="#0CA2EE">1180-GEN3</text>
<text x="420.8" y="167.2" font-size="15" font-weight="bold" fill="#EC7428">980-GEN3</text>
<text x="385.5" y="217.5" font-size="14.7" font-weight="bold" fill="#6C24A6">DP780</text>
<text x="164.5" y="250.7" font-size="14.7" font-weight="bold" fill="#04AE4C">MP980</text>
<path d="M179.3,232.4L146.3,164.4M145,172L146.3,164.4L152.6,168.6" fill="none" stroke="#04AE4C" stroke-width="1.5"/>
</svg>
</body></html>
